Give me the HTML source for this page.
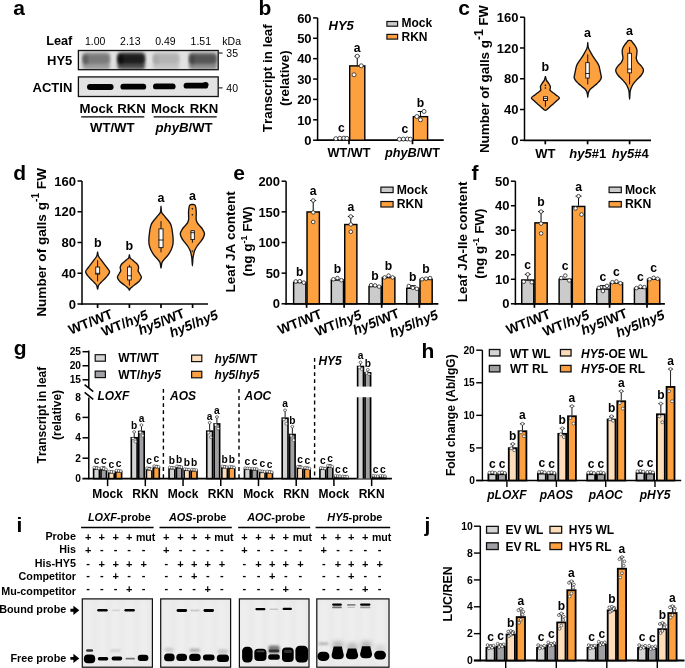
<!DOCTYPE html>
<html><head><meta charset="utf-8"><style>
html,body{margin:0;padding:0;background:#fff;overflow:hidden;}
svg{display:block;}
text{font-family:'Liberation Sans', Arial, sans-serif;font-kerning:none;}
</style></head><body>
<svg width="685" height="668" viewBox="0 0 685 668">
<rect width="685" height="668" fill="#fff"/>
<text x="13.30" y="14.60" font-size="21" font-weight="bold" text-anchor="start" fill="#000">a</text>
<text x="72.30" y="45.00" font-size="12.7" font-weight="bold" text-anchor="end" fill="#000">Leaf</text>
<text x="95.20" y="45.00" font-size="10.5" font-weight="normal" text-anchor="middle" fill="#000">1.00</text>
<text x="130.30" y="45.00" font-size="10.5" font-weight="normal" text-anchor="middle" fill="#000">2.13</text>
<text x="165.40" y="45.00" font-size="10.5" font-weight="normal" text-anchor="middle" fill="#000">0.49</text>
<text x="200.80" y="45.00" font-size="10.5" font-weight="normal" text-anchor="middle" fill="#000">1.51</text>
<text x="222.30" y="45.00" font-size="10.5" font-weight="normal" text-anchor="start" fill="#000">kDa</text>
<text x="72.30" y="65.20" font-size="13" font-weight="bold" text-anchor="end" fill="#000">HY5</text>
<text x="72.30" y="91.80" font-size="13" font-weight="bold" text-anchor="end" fill="#000">ACTIN</text>
<defs><filter id="blur1" x="-20%" y="-50%" width="140%" height="200%"><feGaussianBlur stdDeviation="1.6"/></filter><filter id="blur2" x="-20%" y="-50%" width="140%" height="200%"><feGaussianBlur stdDeviation="0.7"/></filter><clipPath id="cpHY5"><rect x="78.4" y="50.5" width="139.8" height="19.2"/></clipPath><clipPath id="cpACT"><rect x="78.4" y="76.9" width="139.8" height="19.6"/></clipPath></defs>
<rect x="78.40" y="50.50" width="139.80" height="19.20" fill="#e2e2e2" stroke="none" stroke-width="0"/>
<g clip-path="url(#cpHY5)">
<rect x="82.5" y="52.5" width="27.5" height="17" rx="3" fill="#9c9c9c" filter="url(#blur1)"/>
<rect x="83.0" y="54.2" width="26.5" height="9.5" rx="4" fill="#7a7a7a" filter="url(#blur1)"/>
<ellipse cx="85.5" cy="59.5" rx="2.6" ry="5" fill="#4a4a4a" opacity="0.6" filter="url(#blur1)"/>
<rect x="117.5" y="52.5" width="27.5" height="17" rx="3" fill="#505050" filter="url(#blur1)"/>
<rect x="118.0" y="54.2" width="26.5" height="9.5" rx="4" fill="#1c1c1c" filter="url(#blur1)"/>
<ellipse cx="120.5" cy="59.5" rx="2.6" ry="5" fill="#000" opacity="0.6" filter="url(#blur1)"/>
<rect x="153.0" y="52.5" width="26.3" height="17" rx="3" fill="#c4c4c4" filter="url(#blur1)"/>
<rect x="153.5" y="54.2" width="25.3" height="9.5" rx="4" fill="#b4b4b4" filter="url(#blur1)"/>
<ellipse cx="156.0" cy="59.5" rx="2.6" ry="5" fill="#a0a0a0" opacity="0.6" filter="url(#blur1)"/>
<rect x="189.0" y="52.5" width="28.0" height="17" rx="3" fill="#8a8a8a" filter="url(#blur1)"/>
<rect x="189.5" y="54.2" width="27.0" height="9.5" rx="4" fill="#555555" filter="url(#blur1)"/>
<ellipse cx="192.0" cy="59.5" rx="2.6" ry="5" fill="#3a3a3a" opacity="0.6" filter="url(#blur1)"/>
</g>
<rect x="78.40" y="50.50" width="139.80" height="19.20" fill="none" stroke="#111" stroke-width="1.3"/>
<rect x="78.40" y="76.90" width="139.80" height="19.60" fill="#e3e3e3" stroke="none" stroke-width="0"/>
<g clip-path="url(#cpACT)">
<rect x="87.0" y="83.9" width="26.6" height="6.0" rx="3.0" fill="#000" filter="url(#blur2)"/>
<rect x="120.4" y="83.8" width="25.8" height="5.8" rx="2.9" fill="#000" filter="url(#blur2)"/>
<rect x="153.0" y="83.5" width="22.6" height="5.8" rx="2.9" fill="#000" filter="url(#blur2)"/>
<rect x="183.6" y="82.8" width="24.6" height="5.8" rx="2.9" fill="#000" filter="url(#blur2)"/>
<ellipse cx="205.5" cy="84.6" rx="3" ry="2.6" fill="#000" filter="url(#blur2)"/>
</g>
<rect x="78.40" y="76.90" width="139.80" height="19.60" fill="none" stroke="#111" stroke-width="1.3"/>
<line x1="218.90" y1="53.00" x2="222.60" y2="53.00" stroke="#000" stroke-width="1.0"/>
<line x1="218.90" y1="87.90" x2="222.60" y2="87.90" stroke="#000" stroke-width="1.0"/>
<text x="226.30" y="56.60" font-size="10.5" font-weight="normal" text-anchor="start" fill="#000">35</text>
<text x="226.30" y="91.70" font-size="10.5" font-weight="normal" text-anchor="start" fill="#000">40</text>
<text x="96.30" y="112.60" font-size="13.2" font-weight="bold" text-anchor="middle" fill="#000">Mock</text>
<text x="131.50" y="112.60" font-size="13.2" font-weight="bold" text-anchor="middle" fill="#000">RKN</text>
<text x="167.80" y="112.60" font-size="13.2" font-weight="bold" text-anchor="middle" fill="#000">Mock</text>
<text x="204.10" y="112.60" font-size="13.2" font-weight="bold" text-anchor="middle" fill="#000">RKN</text>
<line x1="81.20" y1="116.80" x2="144.30" y2="116.80" stroke="#000" stroke-width="1.3"/>
<line x1="153.60" y1="116.80" x2="216.70" y2="116.80" stroke="#000" stroke-width="1.3"/>
<text x="112.30" y="132.40" font-size="13.2" font-weight="bold" text-anchor="middle" fill="#000">WT/WT</text>
<text x="184.10" y="132.40" font-size="13.2" font-weight="bold" text-anchor="middle" fill="#000"><tspan font-style="italic">phyB</tspan>/WT</text>
<text x="258.60" y="14.60" font-size="21" font-weight="bold" text-anchor="start" fill="#000">b</text>
<line x1="317.60" y1="17.90" x2="317.60" y2="140.95" stroke="#000" stroke-width="1.5"/>
<line x1="313.10" y1="140.20" x2="317.60" y2="140.20" stroke="#000" stroke-width="1.5"/>
<text x="311.60" y="144.88" font-size="13" font-weight="bold" text-anchor="end" fill="#000">0</text>
<line x1="313.10" y1="119.82" x2="317.60" y2="119.82" stroke="#000" stroke-width="1.5"/>
<text x="311.60" y="124.50" font-size="13" font-weight="bold" text-anchor="end" fill="#000">10</text>
<line x1="313.10" y1="99.43" x2="317.60" y2="99.43" stroke="#000" stroke-width="1.5"/>
<text x="311.60" y="104.11" font-size="13" font-weight="bold" text-anchor="end" fill="#000">20</text>
<line x1="313.10" y1="79.05" x2="317.60" y2="79.05" stroke="#000" stroke-width="1.5"/>
<text x="311.60" y="83.73" font-size="13" font-weight="bold" text-anchor="end" fill="#000">30</text>
<line x1="313.10" y1="58.67" x2="317.60" y2="58.67" stroke="#000" stroke-width="1.5"/>
<text x="311.60" y="63.35" font-size="13" font-weight="bold" text-anchor="end" fill="#000">40</text>
<line x1="313.10" y1="38.28" x2="317.60" y2="38.28" stroke="#000" stroke-width="1.5"/>
<text x="311.60" y="42.96" font-size="13" font-weight="bold" text-anchor="end" fill="#000">50</text>
<line x1="313.10" y1="17.90" x2="317.60" y2="17.90" stroke="#000" stroke-width="1.5"/>
<text x="311.60" y="22.58" font-size="13" font-weight="bold" text-anchor="end" fill="#000">60</text>
<line x1="316.75" y1="140.20" x2="443.70" y2="140.20" stroke="#000" stroke-width="1.7"/>
<line x1="349.00" y1="140.20" x2="349.00" y2="144.20" stroke="#000" stroke-width="1.7"/>
<line x1="412.50" y1="140.20" x2="412.50" y2="144.20" stroke="#000" stroke-width="1.7"/>
<rect x="334.20" y="139.27" width="14.30" height="0.93" fill="#cbcbcb" stroke="#000" stroke-width="1.4"/>
<circle cx="335.85" cy="138.67" r="2.00" fill="#fff" stroke="#222" stroke-width="0.8"/>
<circle cx="339.85" cy="138.26" r="2.00" fill="#fff" stroke="#222" stroke-width="0.8"/>
<circle cx="343.85" cy="138.16" r="2.00" fill="#fff" stroke="#222" stroke-width="0.8"/>
<circle cx="346.85" cy="138.37" r="2.00" fill="#fff" stroke="#222" stroke-width="0.8"/>
<text x="341.35" y="132.36" font-size="12.2" font-weight="bold" text-anchor="middle" fill="#000">c</text>
<line x1="357.25" y1="65.19" x2="357.25" y2="56.22" stroke="#000" stroke-width="1.0"/>
<line x1="354.45" y1="56.22" x2="360.05" y2="56.22" stroke="#000" stroke-width="1.0"/>
<rect x="349.70" y="65.89" width="15.10" height="74.31" fill="#fda140" stroke="#000" stroke-width="1.4"/>
<circle cx="357.25" cy="56.22" r="2.00" fill="#fff" stroke="#222" stroke-width="0.8"/>
<circle cx="361.25" cy="65.80" r="2.00" fill="#fff" stroke="#222" stroke-width="0.8"/>
<circle cx="354.05" cy="74.77" r="2.00" fill="#fff" stroke="#222" stroke-width="0.8"/>
<text x="357.25" y="51.72" font-size="12.2" font-weight="bold" text-anchor="middle" fill="#000">a</text>
<rect x="397.70" y="139.98" width="14.40" height="0.22" fill="#cbcbcb" stroke="#000" stroke-width="1.4"/>
<circle cx="399.40" cy="139.28" r="2.00" fill="#fff" stroke="#222" stroke-width="0.8"/>
<circle cx="403.40" cy="139.08" r="2.00" fill="#fff" stroke="#222" stroke-width="0.8"/>
<circle cx="407.40" cy="138.98" r="2.00" fill="#fff" stroke="#222" stroke-width="0.8"/>
<circle cx="410.40" cy="139.18" r="2.00" fill="#fff" stroke="#222" stroke-width="0.8"/>
<text x="404.90" y="133.18" font-size="12.2" font-weight="bold" text-anchor="middle" fill="#000">c</text>
<line x1="420.45" y1="115.94" x2="420.45" y2="111.46" stroke="#000" stroke-width="1.0"/>
<line x1="417.65" y1="111.46" x2="423.25" y2="111.46" stroke="#000" stroke-width="1.0"/>
<rect x="413.30" y="116.64" width="14.30" height="23.56" fill="#fda140" stroke="#000" stroke-width="1.4"/>
<circle cx="416.85" cy="116.56" r="2.00" fill="#fff" stroke="#222" stroke-width="0.8"/>
<circle cx="424.05" cy="111.46" r="2.00" fill="#fff" stroke="#222" stroke-width="0.8"/>
<circle cx="420.45" cy="119.82" r="2.00" fill="#fff" stroke="#222" stroke-width="0.8"/>
<text x="420.45" y="106.96" font-size="12.2" font-weight="bold" text-anchor="middle" fill="#000">b</text>
<text x="328.50" y="30.00" font-size="13" font-weight="bold" font-style="italic" text-anchor="start" fill="#000">HY5</text>
<rect x="386.90" y="21.50" width="10.70" height="4.70" fill="#cbcbcb" stroke="#111" stroke-width="1.2"/>
<rect x="386.90" y="34.40" width="10.70" height="4.70" fill="#fda140" stroke="#111" stroke-width="1.2"/>
<text x="401.50" y="26.80" font-size="12" font-weight="bold" text-anchor="start" fill="#000">Mock</text>
<text x="401.50" y="40.80" font-size="12" font-weight="bold" text-anchor="start" fill="#000">RKN</text>
<text x="0.00" y="0.00" font-size="13.4" font-weight="bold" text-anchor="middle" fill="#000" transform="translate(271.60,78.20) rotate(-90)">Transcript in leaf</text>
<text x="0.00" y="0.00" font-size="13.4" font-weight="bold" text-anchor="middle" fill="#000" transform="translate(288.60,78.20) rotate(-90)">(relative)</text>
<text x="349.00" y="157.30" font-size="12.7" font-weight="bold" text-anchor="middle" fill="#000">WT/WT</text>
<text x="412.40" y="157.30" font-size="12.7" font-weight="bold" text-anchor="middle" fill="#000"><tspan font-style="italic">phyB</tspan>/WT</text>
<text x="458.20" y="14.60" font-size="21" font-weight="bold" text-anchor="start" fill="#000">c</text>
<line x1="524.50" y1="17.20" x2="524.50" y2="141.05" stroke="#000" stroke-width="1.5"/>
<line x1="520.00" y1="140.30" x2="524.50" y2="140.30" stroke="#000" stroke-width="1.5"/>
<text x="518.50" y="144.98" font-size="13" font-weight="bold" text-anchor="end" fill="#000">0</text>
<line x1="520.00" y1="109.53" x2="524.50" y2="109.53" stroke="#000" stroke-width="1.5"/>
<text x="518.50" y="114.21" font-size="13" font-weight="bold" text-anchor="end" fill="#000">40</text>
<line x1="520.00" y1="78.75" x2="524.50" y2="78.75" stroke="#000" stroke-width="1.5"/>
<text x="518.50" y="83.43" font-size="13" font-weight="bold" text-anchor="end" fill="#000">80</text>
<line x1="520.00" y1="47.98" x2="524.50" y2="47.98" stroke="#000" stroke-width="1.5"/>
<text x="518.50" y="52.66" font-size="13" font-weight="bold" text-anchor="end" fill="#000">120</text>
<line x1="520.00" y1="17.20" x2="524.50" y2="17.20" stroke="#000" stroke-width="1.5"/>
<text x="518.50" y="21.88" font-size="13" font-weight="bold" text-anchor="end" fill="#000">160</text>
<line x1="523.65" y1="140.30" x2="651.00" y2="140.30" stroke="#000" stroke-width="1.7"/>
<line x1="545.30" y1="140.30" x2="545.30" y2="144.30" stroke="#000" stroke-width="1.7"/>
<line x1="587.60" y1="140.30" x2="587.60" y2="144.30" stroke="#000" stroke-width="1.7"/>
<line x1="629.60" y1="140.30" x2="629.60" y2="144.30" stroke="#000" stroke-width="1.7"/>
<path d="M545.40,76.40 C545.73,76.40 545.83,78.92 546.40,80.10 C546.97,81.28 548.15,82.48 548.80,83.50 C549.45,84.52 550.07,85.37 550.30,86.20 C550.53,87.03 550.25,87.83 550.20,88.50 C550.15,89.17 549.63,89.58 550.00,90.20 C550.37,90.82 551.42,91.42 552.40,92.20 C553.38,92.98 554.73,93.95 555.90,94.90 C557.07,95.85 559.18,97.00 559.40,97.90 C559.62,98.80 558.18,99.33 557.20,100.30 C556.22,101.27 554.73,102.58 553.50,103.70 C552.27,104.82 550.85,106.05 549.80,107.00 C548.75,107.95 547.93,108.83 547.20,109.40 C546.47,109.97 546.00,110.40 545.40,110.40 C544.80,110.40 544.33,109.97 543.60,109.40 C542.87,108.83 542.05,107.95 541.00,107.00 C539.95,106.05 538.53,104.82 537.30,103.70 C536.07,102.58 534.58,101.27 533.60,100.30 C532.62,99.33 531.18,98.80 531.40,97.90 C531.62,97.00 533.73,95.85 534.90,94.90 C536.07,93.95 537.42,92.98 538.40,92.20 C539.38,91.42 540.43,90.82 540.80,90.20 C541.17,89.58 540.65,89.17 540.60,88.50 C540.55,87.83 540.27,87.03 540.50,86.20 C540.73,85.37 541.35,84.52 542.00,83.50 C542.65,82.48 543.83,81.28 544.40,80.10 C544.97,78.92 545.07,76.40 545.40,76.40 Z" fill="#fda140" stroke="#111" stroke-width="1.35" stroke-linejoin="round"/>
<line x1="545.40" y1="101.00" x2="545.40" y2="106.70" stroke="#111" stroke-width="1.0"/>
<rect x="543.45" y="96.75" width="4.00" height="3.80" fill="#fff" stroke="#111" stroke-width="0.9"/>
<line x1="543.00" y1="98.60" x2="547.90" y2="98.60" stroke="#111" stroke-width="0.9"/>
<circle cx="545.40" cy="85.30" r="0.70" fill="#222" stroke="#222" stroke-width="0.3"/>
<circle cx="545.40" cy="88.00" r="0.70" fill="#222" stroke="#222" stroke-width="0.3"/>
<path d="M587.75,42.40 C587.88,42.40 587.90,45.67 588.15,46.90 C588.40,48.13 588.69,48.65 589.25,49.80 C589.81,50.95 590.73,52.48 591.50,53.80 C592.27,55.12 592.99,56.38 593.85,57.70 C594.71,59.02 595.82,60.38 596.65,61.70 C597.48,63.02 598.28,64.12 598.85,65.60 C599.42,67.08 599.68,68.95 600.05,70.60 C600.42,72.25 600.83,74.35 601.05,75.50 C601.27,76.65 601.52,76.68 601.35,77.50 C601.18,78.32 600.75,79.42 600.05,80.40 C599.35,81.38 598.22,82.40 597.15,83.40 C596.08,84.40 594.80,85.42 593.65,86.40 C592.50,87.38 591.10,88.32 590.25,89.30 C589.40,90.28 588.93,91.30 588.55,92.30 C588.17,93.30 588.08,94.48 587.95,95.30 C587.82,96.12 587.82,97.20 587.75,97.20 C587.68,97.20 587.68,96.12 587.55,95.30 C587.42,94.48 587.33,93.30 586.95,92.30 C586.57,91.30 586.10,90.28 585.25,89.30 C584.40,88.32 583.00,87.38 581.85,86.40 C580.70,85.42 579.42,84.40 578.35,83.40 C577.28,82.40 576.15,81.38 575.45,80.40 C574.75,79.42 574.32,78.32 574.15,77.50 C573.98,76.68 574.23,76.65 574.45,75.50 C574.67,74.35 575.08,72.25 575.45,70.60 C575.82,68.95 576.08,67.08 576.65,65.60 C577.22,64.12 578.02,63.02 578.85,61.70 C579.68,60.38 580.79,59.02 581.65,57.70 C582.51,56.38 583.23,55.12 584.00,53.80 C584.77,52.48 585.69,50.95 586.25,49.80 C586.81,48.65 587.10,48.13 587.35,46.90 C587.60,45.67 587.62,42.40 587.75,42.40 Z" fill="#fda140" stroke="#111" stroke-width="1.35" stroke-linejoin="round"/>
<line x1="587.75" y1="54.30" x2="587.75" y2="84.40" stroke="#111" stroke-width="1.0"/>
<rect x="585.75" y="62.65" width="3.50" height="15.40" fill="#fff" stroke="#111" stroke-width="0.9"/>
<line x1="585.30" y1="73.50" x2="589.70" y2="73.50" stroke="#111" stroke-width="0.9"/>
<path d="M629.60,40.40 C630.10,40.40 630.68,40.35 631.10,40.60 C631.52,40.85 631.53,41.18 632.10,41.90 C632.67,42.62 633.80,43.90 634.50,44.90 C635.20,45.90 635.88,46.92 636.30,47.90 C636.72,48.88 636.93,49.65 637.00,50.80 C637.07,51.95 636.82,53.48 636.70,54.80 C636.58,56.12 636.08,57.38 636.30,58.70 C636.52,60.02 637.22,61.55 638.00,62.70 C638.78,63.85 640.10,64.45 641.00,65.60 C641.90,66.75 643.08,68.45 643.40,69.60 C643.72,70.75 643.30,71.52 642.90,72.50 C642.50,73.48 641.98,74.33 641.00,75.50 C640.02,76.67 638.23,78.18 637.00,79.50 C635.77,80.82 634.53,82.08 633.60,83.40 C632.67,84.72 631.97,86.08 631.40,87.40 C630.83,88.72 630.45,89.98 630.20,91.30 C629.95,92.62 630.00,93.98 629.90,95.30 C629.80,96.62 629.70,99.20 629.60,99.20 C629.50,99.20 629.40,96.62 629.30,95.30 C629.20,93.98 629.25,92.62 629.00,91.30 C628.75,89.98 628.37,88.72 627.80,87.40 C627.23,86.08 626.53,84.72 625.60,83.40 C624.67,82.08 623.43,80.82 622.20,79.50 C620.97,78.18 619.18,76.67 618.20,75.50 C617.22,74.33 616.70,73.48 616.30,72.50 C615.90,71.52 615.48,70.75 615.80,69.60 C616.12,68.45 617.30,66.75 618.20,65.60 C619.10,64.45 620.42,63.85 621.20,62.70 C621.98,61.55 622.68,60.02 622.90,58.70 C623.12,57.38 622.62,56.12 622.50,54.80 C622.38,53.48 622.13,51.95 622.20,50.80 C622.27,49.65 622.48,48.88 622.90,47.90 C623.32,46.92 624.00,45.90 624.70,44.90 C625.40,43.90 626.53,42.62 627.10,41.90 C627.67,41.18 627.68,40.85 628.10,40.60 C628.52,40.35 629.10,40.40 629.60,40.40 Z" fill="#fda140" stroke="#111" stroke-width="1.35" stroke-linejoin="round"/>
<line x1="629.60" y1="46.90" x2="629.60" y2="84.40" stroke="#111" stroke-width="1.0"/>
<rect x="627.75" y="53.25" width="3.70" height="19.60" fill="#fff" stroke="#111" stroke-width="0.9"/>
<line x1="627.30" y1="69.10" x2="631.90" y2="69.10" stroke="#111" stroke-width="0.9"/>
<text x="545.30" y="71.20" font-size="12.5" font-weight="bold" text-anchor="middle" fill="#000">b</text>
<text x="587.60" y="37.30" font-size="12.5" font-weight="bold" text-anchor="middle" fill="#000">a</text>
<text x="629.60" y="35.40" font-size="12.5" font-weight="bold" text-anchor="middle" fill="#000">a</text>
<text x="545.30" y="157.60" font-size="13" font-weight="bold" text-anchor="middle" fill="#000">WT</text>
<text x="587.80" y="157.60" font-size="13" font-weight="bold" text-anchor="middle" fill="#000"><tspan font-style="italic">hy5</tspan>#1</text>
<text x="630.20" y="157.60" font-size="13" font-weight="bold" text-anchor="middle" fill="#000"><tspan font-style="italic">hy5</tspan>#4</text>
<text x="0.00" y="0.00" font-size="13.4" font-weight="bold" text-anchor="middle" fill="#000" transform="translate(488.60,79.20) rotate(-90)">Number of galls g<tspan font-size="12.3" dy="-5.7">-1</tspan><tspan font-size="13" dy="5.5"> FW</tspan></text>
<text x="13.30" y="180.00" font-size="21" font-weight="bold" text-anchor="start" fill="#000">d</text>
<line x1="82.00" y1="181.00" x2="82.00" y2="304.75" stroke="#000" stroke-width="1.5"/>
<line x1="77.50" y1="304.00" x2="82.00" y2="304.00" stroke="#000" stroke-width="1.5"/>
<text x="76.00" y="308.68" font-size="13" font-weight="bold" text-anchor="end" fill="#000">0</text>
<line x1="77.50" y1="273.25" x2="82.00" y2="273.25" stroke="#000" stroke-width="1.5"/>
<text x="76.00" y="277.93" font-size="13" font-weight="bold" text-anchor="end" fill="#000">40</text>
<line x1="77.50" y1="242.50" x2="82.00" y2="242.50" stroke="#000" stroke-width="1.5"/>
<text x="76.00" y="247.18" font-size="13" font-weight="bold" text-anchor="end" fill="#000">80</text>
<line x1="77.50" y1="211.75" x2="82.00" y2="211.75" stroke="#000" stroke-width="1.5"/>
<text x="76.00" y="216.43" font-size="13" font-weight="bold" text-anchor="end" fill="#000">120</text>
<line x1="77.50" y1="181.00" x2="82.00" y2="181.00" stroke="#000" stroke-width="1.5"/>
<text x="76.00" y="185.68" font-size="13" font-weight="bold" text-anchor="end" fill="#000">160</text>
<line x1="81.15" y1="304.00" x2="208.00" y2="304.00" stroke="#000" stroke-width="1.7"/>
<line x1="97.60" y1="304.00" x2="97.60" y2="308.00" stroke="#000" stroke-width="1.7"/>
<line x1="129.40" y1="304.00" x2="129.40" y2="308.00" stroke="#000" stroke-width="1.7"/>
<line x1="161.00" y1="304.00" x2="161.00" y2="308.00" stroke="#000" stroke-width="1.7"/>
<line x1="192.60" y1="304.00" x2="192.60" y2="308.00" stroke="#000" stroke-width="1.7"/>
<path d="M97.60,251.90 C97.77,251.90 97.87,254.25 98.10,255.10 C98.33,255.95 98.40,256.08 99.00,257.00 C99.60,257.92 100.78,259.38 101.70,260.60 C102.62,261.82 103.57,263.07 104.50,264.30 C105.43,265.53 106.45,266.77 107.30,268.00 C108.15,269.23 109.53,270.47 109.60,271.70 C109.67,272.93 108.55,274.18 107.70,275.40 C106.85,276.62 105.65,277.78 104.50,279.00 C103.35,280.22 101.80,281.62 100.80,282.70 C99.80,283.78 99.03,284.43 98.50,285.50 C97.97,286.57 97.90,289.10 97.60,289.10 C97.30,289.10 97.23,286.57 96.70,285.50 C96.17,284.43 95.40,283.78 94.40,282.70 C93.40,281.62 91.85,280.22 90.70,279.00 C89.55,277.78 88.35,276.62 87.50,275.40 C86.65,274.18 85.53,272.93 85.60,271.70 C85.67,270.47 87.05,269.23 87.90,268.00 C88.75,266.77 89.77,265.53 90.70,264.30 C91.63,263.07 92.58,261.82 93.50,260.60 C94.42,259.38 95.60,257.92 96.20,257.00 C96.80,256.08 96.87,255.95 97.10,255.10 C97.33,254.25 97.43,251.90 97.60,251.90 Z" fill="#fda140" stroke="#111" stroke-width="1.35" stroke-linejoin="round"/>
<line x1="97.60" y1="260.20" x2="97.60" y2="281.30" stroke="#111" stroke-width="1.0"/>
<rect x="95.75" y="267.05" width="3.90" height="7.10" fill="#fff" stroke="#111" stroke-width="0.9"/>
<line x1="95.30" y1="273.30" x2="100.10" y2="273.30" stroke="#111" stroke-width="0.9"/>
<path d="M129.40,254.70 C129.63,254.70 129.63,257.07 130.10,257.90 C130.57,258.73 131.32,258.93 132.20,259.70 C133.08,260.47 134.48,261.65 135.40,262.50 C136.32,263.35 137.17,263.97 137.70,264.80 C138.23,265.63 138.53,266.50 138.60,267.50 C138.67,268.50 137.95,269.80 138.10,270.80 C138.25,271.80 138.95,272.43 139.50,273.50 C140.05,274.57 141.40,275.97 141.40,277.20 C141.40,278.43 140.35,279.83 139.50,280.90 C138.65,281.97 137.45,282.68 136.30,283.60 C135.15,284.52 133.63,285.55 132.60,286.40 C131.57,287.25 130.63,288.08 130.10,288.70 C129.57,289.32 129.63,290.10 129.40,290.10 C129.17,290.10 129.23,289.32 128.70,288.70 C128.17,288.08 127.23,287.25 126.20,286.40 C125.17,285.55 123.65,284.52 122.50,283.60 C121.35,282.68 120.15,281.97 119.30,280.90 C118.45,279.83 117.40,278.43 117.40,277.20 C117.40,275.97 118.75,274.57 119.30,273.50 C119.85,272.43 120.55,271.80 120.70,270.80 C120.85,269.80 120.13,268.50 120.20,267.50 C120.27,266.50 120.57,265.63 121.10,264.80 C121.63,263.97 122.48,263.35 123.40,262.50 C124.32,261.65 125.72,260.47 126.60,259.70 C127.48,258.93 128.23,258.73 128.70,257.90 C129.17,257.07 129.17,254.70 129.40,254.70 Z" fill="#fda140" stroke="#111" stroke-width="1.35" stroke-linejoin="round"/>
<line x1="129.40" y1="264.80" x2="129.40" y2="285.50" stroke="#111" stroke-width="1.0"/>
<rect x="127.55" y="267.05" width="3.70" height="12.90" fill="#fff" stroke="#111" stroke-width="0.9"/>
<line x1="127.10" y1="275.80" x2="131.70" y2="275.80" stroke="#111" stroke-width="0.9"/>
<path d="M161.00,206.10 C161.17,206.10 161.05,210.48 161.50,212.00 C161.95,213.52 162.70,213.93 163.70,215.20 C164.70,216.47 166.37,218.15 167.50,219.60 C168.63,221.05 169.78,222.47 170.50,223.90 C171.22,225.33 171.45,226.58 171.80,228.20 C172.15,229.82 172.38,231.80 172.60,233.60 C172.82,235.40 173.05,237.20 173.10,239.00 C173.15,240.80 173.22,242.62 172.90,244.40 C172.58,246.18 172.02,247.92 171.20,249.70 C170.38,251.48 169.17,253.48 168.00,255.10 C166.83,256.72 165.22,258.13 164.20,259.40 C163.18,260.67 162.43,261.25 161.90,262.70 C161.37,264.15 161.30,268.10 161.00,268.10 C160.70,268.10 160.63,264.15 160.10,262.70 C159.57,261.25 158.82,260.67 157.80,259.40 C156.78,258.13 155.17,256.72 154.00,255.10 C152.83,253.48 151.62,251.48 150.80,249.70 C149.98,247.92 149.42,246.18 149.10,244.40 C148.78,242.62 148.85,240.80 148.90,239.00 C148.95,237.20 149.18,235.40 149.40,233.60 C149.62,231.80 149.85,229.82 150.20,228.20 C150.55,226.58 150.78,225.33 151.50,223.90 C152.22,222.47 153.37,221.05 154.50,219.60 C155.63,218.15 157.30,216.47 158.30,215.20 C159.30,213.93 160.05,213.52 160.50,212.00 C160.95,210.48 160.83,206.10 161.00,206.10 Z" fill="#fda140" stroke="#111" stroke-width="1.35" stroke-linejoin="round"/>
<line x1="161.00" y1="221.20" x2="161.00" y2="252.40" stroke="#111" stroke-width="1.0"/>
<rect x="158.95" y="228.85" width="4.10" height="18.80" fill="#fff" stroke="#111" stroke-width="0.9"/>
<line x1="158.50" y1="240.00" x2="163.50" y2="240.00" stroke="#111" stroke-width="0.9"/>
<path d="M192.40,204.50 C193.13,204.50 194.07,204.35 194.60,204.70 C195.13,205.05 195.33,205.57 195.60,206.60 C195.87,207.63 196.10,209.47 196.20,210.90 C196.30,212.33 196.20,213.75 196.20,215.20 C196.20,216.65 196.02,218.33 196.20,219.60 C196.38,220.87 196.68,221.73 197.30,222.80 C197.92,223.87 199.02,224.92 199.90,226.00 C200.78,227.08 201.83,228.03 202.60,229.30 C203.37,230.57 204.40,232.17 204.50,233.60 C204.60,235.03 203.92,236.47 203.20,237.90 C202.48,239.33 201.25,240.77 200.20,242.20 C199.15,243.63 197.83,245.07 196.90,246.50 C195.97,247.93 195.17,249.37 194.60,250.80 C194.03,252.23 193.78,253.83 193.50,255.10 C193.22,256.37 193.08,256.60 192.90,258.40 C192.72,260.20 192.57,265.90 192.40,265.90 C192.23,265.90 192.08,260.20 191.90,258.40 C191.72,256.60 191.58,256.37 191.30,255.10 C191.02,253.83 190.77,252.23 190.20,250.80 C189.63,249.37 188.83,247.93 187.90,246.50 C186.97,245.07 185.65,243.63 184.60,242.20 C183.55,240.77 182.32,239.33 181.60,237.90 C180.88,236.47 180.20,235.03 180.30,233.60 C180.40,232.17 181.43,230.57 182.20,229.30 C182.97,228.03 184.02,227.08 184.90,226.00 C185.78,224.92 186.88,223.87 187.50,222.80 C188.12,221.73 188.42,220.87 188.60,219.60 C188.78,218.33 188.60,216.65 188.60,215.20 C188.60,213.75 188.50,212.33 188.60,210.90 C188.70,209.47 188.93,207.63 189.20,206.60 C189.47,205.57 189.67,205.05 190.20,204.70 C190.73,204.35 191.67,204.50 192.40,204.50 Z" fill="#fda140" stroke="#111" stroke-width="1.35" stroke-linejoin="round"/>
<line x1="192.40" y1="230.30" x2="192.40" y2="242.70" stroke="#111" stroke-width="1.0"/>
<rect x="190.95" y="230.75" width="3.40" height="8.80" fill="#fff" stroke="#111" stroke-width="0.9"/>
<line x1="190.50" y1="232.70" x2="194.80" y2="232.70" stroke="#111" stroke-width="0.9"/>
<circle cx="192.40" cy="208.80" r="0.70" fill="#222" stroke="#222" stroke-width="0.3"/>
<circle cx="192.40" cy="214.70" r="0.70" fill="#222" stroke="#222" stroke-width="0.3"/>
<circle cx="192.40" cy="251.10" r="0.70" fill="#222" stroke="#222" stroke-width="0.3"/>
<text x="97.70" y="246.80" font-size="12.5" font-weight="bold" text-anchor="middle" fill="#000">b</text>
<text x="129.30" y="250.10" font-size="12.5" font-weight="bold" text-anchor="middle" fill="#000">b</text>
<text x="161.00" y="201.50" font-size="12.5" font-weight="bold" text-anchor="middle" fill="#000">a</text>
<text x="192.60" y="199.70" font-size="12.5" font-weight="bold" text-anchor="middle" fill="#000">a</text>
<text x="0.00" y="0.00" font-size="13.7" font-weight="bold" text-anchor="end" fill="#000" transform="translate(113.70,317.50) rotate(-22)">WT/WT</text>
<text x="0.00" y="0.00" font-size="13.7" font-weight="bold" text-anchor="end" fill="#000" transform="translate(149.00,318.30) rotate(-22)">WT/<tspan font-style="italic">hy5</tspan></text>
<text x="0.00" y="0.00" font-size="13.7" font-weight="bold" text-anchor="end" fill="#000" transform="translate(185.70,316.80) rotate(-22)"><tspan font-style="italic">hy5</tspan>/WT</text>
<text x="0.00" y="0.00" font-size="13.7" font-weight="bold" text-anchor="end" fill="#000" transform="translate(219.10,318.30) rotate(-22)"><tspan font-style="italic">hy5</tspan>/<tspan font-style="italic">hy5</tspan></text>
<text x="0.00" y="0.00" font-size="13.6" font-weight="bold" text-anchor="middle" fill="#000" transform="translate(45.60,242.40) rotate(-90)">Number of galls g<tspan font-size="10.2" dy="-6.8">-1</tspan><tspan dy="6.8"> FW</tspan></text>
<text x="233.20" y="179.60" font-size="21" font-weight="bold" text-anchor="start" fill="#000">e</text>
<line x1="286.10" y1="181.20" x2="286.10" y2="304.55" stroke="#000" stroke-width="1.5"/>
<line x1="281.60" y1="303.80" x2="286.10" y2="303.80" stroke="#000" stroke-width="1.5"/>
<text x="280.10" y="308.48" font-size="13" font-weight="bold" text-anchor="end" fill="#000">0</text>
<line x1="281.60" y1="273.15" x2="286.10" y2="273.15" stroke="#000" stroke-width="1.5"/>
<text x="280.10" y="277.83" font-size="13" font-weight="bold" text-anchor="end" fill="#000">50</text>
<line x1="281.60" y1="242.50" x2="286.10" y2="242.50" stroke="#000" stroke-width="1.5"/>
<text x="280.10" y="247.18" font-size="13" font-weight="bold" text-anchor="end" fill="#000">100</text>
<line x1="281.60" y1="211.85" x2="286.10" y2="211.85" stroke="#000" stroke-width="1.5"/>
<text x="280.10" y="216.53" font-size="13" font-weight="bold" text-anchor="end" fill="#000">150</text>
<line x1="281.60" y1="181.20" x2="286.10" y2="181.20" stroke="#000" stroke-width="1.5"/>
<text x="280.10" y="185.88" font-size="13" font-weight="bold" text-anchor="end" fill="#000">200</text>
<line x1="285.25" y1="303.80" x2="438.40" y2="303.80" stroke="#000" stroke-width="1.7"/>
<line x1="306.60" y1="303.80" x2="306.60" y2="307.80" stroke="#000" stroke-width="1.7"/>
<line x1="344.10" y1="303.80" x2="344.10" y2="307.80" stroke="#000" stroke-width="1.7"/>
<line x1="381.70" y1="303.80" x2="381.70" y2="307.80" stroke="#000" stroke-width="1.7"/>
<line x1="419.40" y1="303.80" x2="419.40" y2="307.80" stroke="#000" stroke-width="1.7"/>
<rect x="293.62" y="282.46" width="12.25" height="21.34" fill="#cbcbcb" stroke="#000" stroke-width="1.45"/>
<circle cx="295.75" cy="281.43" r="1.80" fill="#fff" stroke="#222" stroke-width="0.8"/>
<circle cx="299.75" cy="281.24" r="1.80" fill="#fff" stroke="#222" stroke-width="0.8"/>
<circle cx="303.75" cy="282.65" r="1.80" fill="#fff" stroke="#222" stroke-width="0.8"/>
<text x="299.75" y="275.84" font-size="12.2" font-weight="bold" text-anchor="middle" fill="#000">b</text>
<line x1="313.20" y1="211.24" x2="313.20" y2="200.51" stroke="#000" stroke-width="1.0"/>
<line x1="310.20" y1="200.51" x2="316.20" y2="200.51" stroke="#000" stroke-width="1.0"/>
<rect x="307.03" y="211.96" width="12.35" height="91.84" fill="#fda140" stroke="#000" stroke-width="1.45"/>
<circle cx="313.20" cy="200.51" r="1.80" fill="#fff" stroke="#222" stroke-width="0.8"/>
<circle cx="313.20" cy="212.46" r="1.80" fill="#fff" stroke="#222" stroke-width="0.8"/>
<circle cx="313.20" cy="221.96" r="1.80" fill="#fff" stroke="#222" stroke-width="0.8"/>
<text x="313.20" y="195.11" font-size="12.2" font-weight="bold" text-anchor="middle" fill="#000">a</text>
<rect x="331.33" y="280.01" width="12.15" height="23.79" fill="#cbcbcb" stroke="#000" stroke-width="1.45"/>
<circle cx="333.40" cy="279.28" r="1.80" fill="#fff" stroke="#222" stroke-width="0.8"/>
<circle cx="337.40" cy="278.05" r="1.80" fill="#fff" stroke="#222" stroke-width="0.8"/>
<circle cx="341.40" cy="280.20" r="1.80" fill="#fff" stroke="#222" stroke-width="0.8"/>
<text x="337.40" y="272.65" font-size="12.2" font-weight="bold" text-anchor="middle" fill="#000">b</text>
<line x1="350.80" y1="223.80" x2="350.80" y2="216.45" stroke="#000" stroke-width="1.0"/>
<line x1="347.80" y1="216.45" x2="353.80" y2="216.45" stroke="#000" stroke-width="1.0"/>
<rect x="344.73" y="224.53" width="12.15" height="79.27" fill="#fda140" stroke="#000" stroke-width="1.45"/>
<circle cx="350.80" cy="216.45" r="1.80" fill="#fff" stroke="#222" stroke-width="0.8"/>
<circle cx="350.80" cy="224.42" r="1.80" fill="#fff" stroke="#222" stroke-width="0.8"/>
<circle cx="350.80" cy="231.77" r="1.80" fill="#fff" stroke="#222" stroke-width="0.8"/>
<text x="350.80" y="211.05" font-size="12.2" font-weight="bold" text-anchor="middle" fill="#000">a</text>
<rect x="369.03" y="286.44" width="12.15" height="17.36" fill="#cbcbcb" stroke="#000" stroke-width="1.45"/>
<circle cx="371.10" cy="285.10" r="1.80" fill="#fff" stroke="#222" stroke-width="0.8"/>
<circle cx="375.10" cy="285.41" r="1.80" fill="#fff" stroke="#222" stroke-width="0.8"/>
<circle cx="379.10" cy="286.64" r="1.80" fill="#fff" stroke="#222" stroke-width="0.8"/>
<text x="375.10" y="279.70" font-size="12.2" font-weight="bold" text-anchor="middle" fill="#000">b</text>
<rect x="382.33" y="277.55" width="12.55" height="26.25" fill="#fda140" stroke="#000" stroke-width="1.45"/>
<circle cx="384.60" cy="277.44" r="1.80" fill="#fff" stroke="#222" stroke-width="0.8"/>
<circle cx="388.60" cy="275.60" r="1.80" fill="#fff" stroke="#222" stroke-width="0.8"/>
<circle cx="392.60" cy="277.44" r="1.80" fill="#fff" stroke="#222" stroke-width="0.8"/>
<text x="388.60" y="270.20" font-size="12.2" font-weight="bold" text-anchor="middle" fill="#000">b</text>
<line x1="412.80" y1="287.56" x2="412.80" y2="285.72" stroke="#000" stroke-width="1.0"/>
<line x1="409.80" y1="285.72" x2="415.80" y2="285.72" stroke="#000" stroke-width="1.0"/>
<rect x="406.73" y="288.28" width="12.15" height="15.52" fill="#cbcbcb" stroke="#000" stroke-width="1.45"/>
<circle cx="408.80" cy="286.02" r="1.80" fill="#fff" stroke="#222" stroke-width="0.8"/>
<circle cx="412.80" cy="287.86" r="1.80" fill="#fff" stroke="#222" stroke-width="0.8"/>
<circle cx="416.80" cy="288.78" r="1.80" fill="#fff" stroke="#222" stroke-width="0.8"/>
<text x="412.80" y="280.62" font-size="12.2" font-weight="bold" text-anchor="middle" fill="#000">b</text>
<rect x="420.03" y="279.39" width="12.15" height="24.41" fill="#fda140" stroke="#000" stroke-width="1.45"/>
<circle cx="422.10" cy="279.28" r="1.80" fill="#fff" stroke="#222" stroke-width="0.8"/>
<circle cx="426.10" cy="278.67" r="1.80" fill="#fff" stroke="#222" stroke-width="0.8"/>
<circle cx="430.10" cy="278.05" r="1.80" fill="#fff" stroke="#222" stroke-width="0.8"/>
<text x="426.10" y="272.65" font-size="12.2" font-weight="bold" text-anchor="middle" fill="#000">b</text>
<rect x="380.90" y="187.10" width="12.20" height="5.50" fill="#cbcbcb" stroke="#111" stroke-width="1.2"/>
<text x="396.70" y="193.60" font-size="12.2" font-weight="bold" text-anchor="start" fill="#000">Mock</text>
<rect x="380.90" y="201.50" width="12.20" height="5.50" fill="#fda140" stroke="#111" stroke-width="1.2"/>
<text x="396.70" y="208.00" font-size="12.2" font-weight="bold" text-anchor="start" fill="#000">RKN</text>
<text x="0.00" y="0.00" font-size="13.5" font-weight="bold" text-anchor="middle" fill="#000" transform="translate(234.60,241.80) rotate(-90)">Leaf JA content</text>
<text x="0.00" y="0.00" font-size="13.5" font-weight="bold" text-anchor="middle" fill="#000" transform="translate(252.20,241.30) rotate(-90)">(ng g<tspan font-size="9" dy="-5">-1</tspan><tspan dy="5"> FW)</tspan></text>
<text x="0.00" y="0.00" font-size="13.7" font-weight="bold" text-anchor="end" fill="#000" transform="translate(323.00,317.50) rotate(-22)">WT/WT</text>
<text x="0.00" y="0.00" font-size="13.7" font-weight="bold" text-anchor="end" fill="#000" transform="translate(362.50,318.30) rotate(-22)">WT/<tspan font-style="italic">hy5</tspan></text>
<text x="0.00" y="0.00" font-size="13.7" font-weight="bold" text-anchor="end" fill="#000" transform="translate(400.50,316.80) rotate(-22)"><tspan font-style="italic">hy5</tspan>/WT</text>
<text x="0.00" y="0.00" font-size="13.7" font-weight="bold" text-anchor="end" fill="#000" transform="translate(439.00,318.30) rotate(-22)"><tspan font-style="italic">hy5</tspan>/<tspan font-style="italic">hy5</tspan></text>
<text x="471.50" y="179.60" font-size="21" font-weight="bold" text-anchor="start" fill="#000">f</text>
<line x1="515.40" y1="181.20" x2="515.40" y2="304.55" stroke="#000" stroke-width="1.5"/>
<line x1="510.90" y1="303.80" x2="515.40" y2="303.80" stroke="#000" stroke-width="1.5"/>
<text x="509.40" y="308.48" font-size="13" font-weight="bold" text-anchor="end" fill="#000">0</text>
<line x1="510.90" y1="279.28" x2="515.40" y2="279.28" stroke="#000" stroke-width="1.5"/>
<text x="509.40" y="283.96" font-size="13" font-weight="bold" text-anchor="end" fill="#000">10</text>
<line x1="510.90" y1="254.76" x2="515.40" y2="254.76" stroke="#000" stroke-width="1.5"/>
<text x="509.40" y="259.44" font-size="13" font-weight="bold" text-anchor="end" fill="#000">20</text>
<line x1="510.90" y1="230.24" x2="515.40" y2="230.24" stroke="#000" stroke-width="1.5"/>
<text x="509.40" y="234.92" font-size="13" font-weight="bold" text-anchor="end" fill="#000">30</text>
<line x1="510.90" y1="205.72" x2="515.40" y2="205.72" stroke="#000" stroke-width="1.5"/>
<text x="509.40" y="210.40" font-size="13" font-weight="bold" text-anchor="end" fill="#000">40</text>
<line x1="510.90" y1="181.20" x2="515.40" y2="181.20" stroke="#000" stroke-width="1.5"/>
<text x="509.40" y="185.88" font-size="13" font-weight="bold" text-anchor="end" fill="#000">50</text>
<line x1="514.55" y1="303.80" x2="664.90" y2="303.80" stroke="#000" stroke-width="1.7"/>
<line x1="534.40" y1="303.80" x2="534.40" y2="307.80" stroke="#000" stroke-width="1.7"/>
<line x1="571.80" y1="303.80" x2="571.80" y2="307.80" stroke="#000" stroke-width="1.7"/>
<line x1="609.60" y1="303.80" x2="609.60" y2="307.80" stroke="#000" stroke-width="1.7"/>
<line x1="647.00" y1="303.80" x2="647.00" y2="307.80" stroke="#000" stroke-width="1.7"/>
<line x1="527.75" y1="279.28" x2="527.75" y2="274.38" stroke="#000" stroke-width="1.0"/>
<line x1="524.75" y1="274.38" x2="530.75" y2="274.38" stroke="#000" stroke-width="1.0"/>
<rect x="521.73" y="280.01" width="12.05" height="23.79" fill="#cbcbcb" stroke="#000" stroke-width="1.45"/>
<circle cx="523.75" cy="281.73" r="1.80" fill="#fff" stroke="#222" stroke-width="0.8"/>
<circle cx="527.75" cy="274.38" r="1.80" fill="#fff" stroke="#222" stroke-width="0.8"/>
<circle cx="531.75" cy="282.22" r="1.80" fill="#fff" stroke="#222" stroke-width="0.8"/>
<text x="527.75" y="268.98" font-size="12.2" font-weight="bold" text-anchor="middle" fill="#000">c</text>
<line x1="541.05" y1="222.15" x2="541.05" y2="211.60" stroke="#000" stroke-width="1.0"/>
<line x1="538.05" y1="211.60" x2="544.05" y2="211.60" stroke="#000" stroke-width="1.0"/>
<rect x="534.93" y="222.87" width="12.25" height="80.93" fill="#fda140" stroke="#000" stroke-width="1.45"/>
<circle cx="541.05" cy="211.60" r="1.80" fill="#fff" stroke="#222" stroke-width="0.8"/>
<circle cx="541.05" cy="223.62" r="1.80" fill="#fff" stroke="#222" stroke-width="0.8"/>
<circle cx="541.05" cy="233.43" r="1.80" fill="#fff" stroke="#222" stroke-width="0.8"/>
<text x="541.05" y="206.20" font-size="12.2" font-weight="bold" text-anchor="middle" fill="#000">b</text>
<rect x="559.12" y="279.27" width="12.25" height="24.53" fill="#cbcbcb" stroke="#000" stroke-width="1.45"/>
<circle cx="561.25" cy="278.05" r="1.80" fill="#fff" stroke="#222" stroke-width="0.8"/>
<circle cx="565.25" cy="275.60" r="1.80" fill="#fff" stroke="#222" stroke-width="0.8"/>
<circle cx="569.25" cy="280.51" r="1.80" fill="#fff" stroke="#222" stroke-width="0.8"/>
<text x="565.25" y="270.20" font-size="12.2" font-weight="bold" text-anchor="middle" fill="#000">c</text>
<line x1="578.55" y1="205.72" x2="578.55" y2="196.16" stroke="#000" stroke-width="1.0"/>
<line x1="575.55" y1="196.16" x2="581.55" y2="196.16" stroke="#000" stroke-width="1.0"/>
<rect x="572.33" y="206.44" width="12.45" height="97.36" fill="#fda140" stroke="#000" stroke-width="1.45"/>
<circle cx="578.55" cy="196.16" r="1.80" fill="#fff" stroke="#222" stroke-width="0.8"/>
<circle cx="575.55" cy="208.42" r="1.80" fill="#fff" stroke="#222" stroke-width="0.8"/>
<circle cx="581.55" cy="214.55" r="1.80" fill="#fff" stroke="#222" stroke-width="0.8"/>
<text x="578.55" y="190.76" font-size="12.2" font-weight="bold" text-anchor="middle" fill="#000">a</text>
<line x1="602.90" y1="288.35" x2="602.90" y2="285.66" stroke="#000" stroke-width="1.0"/>
<line x1="599.90" y1="285.66" x2="605.90" y2="285.66" stroke="#000" stroke-width="1.0"/>
<rect x="596.73" y="289.08" width="12.35" height="14.72" fill="#cbcbcb" stroke="#000" stroke-width="1.45"/>
<circle cx="598.90" cy="287.86" r="1.80" fill="#fff" stroke="#222" stroke-width="0.8"/>
<circle cx="602.90" cy="291.05" r="1.80" fill="#fff" stroke="#222" stroke-width="0.8"/>
<circle cx="606.90" cy="285.90" r="1.80" fill="#fff" stroke="#222" stroke-width="0.8"/>
<text x="602.90" y="280.50" font-size="12.2" font-weight="bold" text-anchor="middle" fill="#000">c</text>
<rect x="610.23" y="282.95" width="12.35" height="20.85" fill="#fda140" stroke="#000" stroke-width="1.45"/>
<circle cx="612.40" cy="282.22" r="1.80" fill="#fff" stroke="#222" stroke-width="0.8"/>
<circle cx="616.40" cy="281.49" r="1.80" fill="#fff" stroke="#222" stroke-width="0.8"/>
<circle cx="620.40" cy="283.20" r="1.80" fill="#fff" stroke="#222" stroke-width="0.8"/>
<text x="616.40" y="276.09" font-size="12.2" font-weight="bold" text-anchor="middle" fill="#000">c</text>
<rect x="634.43" y="288.34" width="11.95" height="15.46" fill="#cbcbcb" stroke="#000" stroke-width="1.45"/>
<circle cx="636.40" cy="288.11" r="1.80" fill="#fff" stroke="#222" stroke-width="0.8"/>
<circle cx="640.40" cy="286.64" r="1.80" fill="#fff" stroke="#222" stroke-width="0.8"/>
<circle cx="644.40" cy="287.13" r="1.80" fill="#fff" stroke="#222" stroke-width="0.8"/>
<text x="640.40" y="281.24" font-size="12.2" font-weight="bold" text-anchor="middle" fill="#000">c</text>
<rect x="647.52" y="279.27" width="12.25" height="24.53" fill="#fda140" stroke="#000" stroke-width="1.45"/>
<circle cx="649.65" cy="279.28" r="1.80" fill="#fff" stroke="#222" stroke-width="0.8"/>
<circle cx="653.65" cy="277.81" r="1.80" fill="#fff" stroke="#222" stroke-width="0.8"/>
<circle cx="657.65" cy="278.79" r="1.80" fill="#fff" stroke="#222" stroke-width="0.8"/>
<text x="653.65" y="272.41" font-size="12.2" font-weight="bold" text-anchor="middle" fill="#000">c</text>
<rect x="609.10" y="187.10" width="12.20" height="5.50" fill="#cbcbcb" stroke="#111" stroke-width="1.2"/>
<text x="624.90" y="193.60" font-size="12.2" font-weight="bold" text-anchor="start" fill="#000">Mock</text>
<rect x="609.10" y="201.50" width="12.20" height="5.50" fill="#fda140" stroke="#111" stroke-width="1.2"/>
<text x="624.90" y="208.00" font-size="12.2" font-weight="bold" text-anchor="start" fill="#000">RKN</text>
<text x="0.00" y="0.00" font-size="13.5" font-weight="bold" text-anchor="middle" fill="#000" transform="translate(467.20,241.80) rotate(-90)">Leaf JA-Ile content</text>
<text x="0.00" y="0.00" font-size="13.5" font-weight="bold" text-anchor="middle" fill="#000" transform="translate(484.00,243.50) rotate(-90)">(ng g<tspan font-size="9" dy="-5">-1</tspan><tspan dy="5"> FW)</tspan></text>
<text x="0.00" y="0.00" font-size="13.7" font-weight="bold" text-anchor="end" fill="#000" transform="translate(551.50,317.50) rotate(-22)">WT/WT</text>
<text x="0.00" y="0.00" font-size="13.7" font-weight="bold" text-anchor="end" fill="#000" transform="translate(590.20,318.30) rotate(-22)">WT/<tspan font-style="italic">hy5</tspan></text>
<text x="0.00" y="0.00" font-size="13.7" font-weight="bold" text-anchor="end" fill="#000" transform="translate(628.50,316.80) rotate(-22)"><tspan font-style="italic">hy5</tspan>/WT</text>
<text x="0.00" y="0.00" font-size="13.7" font-weight="bold" text-anchor="end" fill="#000" transform="translate(665.50,318.30) rotate(-22)"><tspan font-style="italic">hy5</tspan>/<tspan font-style="italic">hy5</tspan></text>
<text x="13.70" y="355.30" font-size="21" font-weight="bold" text-anchor="start" fill="#000">g</text>
<line x1="88.80" y1="350.60" x2="88.80" y2="388.00" stroke="#000" stroke-width="1.5"/>
<line x1="88.80" y1="397.50" x2="88.80" y2="479.30" stroke="#000" stroke-width="1.5"/>
<line x1="84.60" y1="384.60" x2="93.30" y2="391.60" stroke="#000" stroke-width="1.5"/>
<line x1="84.60" y1="392.40" x2="93.30" y2="399.40" stroke="#000" stroke-width="1.5"/>
<line x1="82.50" y1="351.70" x2="88.80" y2="351.70" stroke="#000" stroke-width="1.5"/>
<text x="81.00" y="355.20" font-size="10.2" font-weight="bold" text-anchor="end" fill="#000">25</text>
<line x1="82.50" y1="365.75" x2="88.80" y2="365.75" stroke="#000" stroke-width="1.5"/>
<text x="81.00" y="369.25" font-size="10.2" font-weight="bold" text-anchor="end" fill="#000">20</text>
<line x1="82.50" y1="379.80" x2="88.80" y2="379.80" stroke="#000" stroke-width="1.5"/>
<text x="81.00" y="383.30" font-size="10.2" font-weight="bold" text-anchor="end" fill="#000">15</text>
<line x1="82.50" y1="417.40" x2="88.80" y2="417.40" stroke="#000" stroke-width="1.5"/>
<text x="81.00" y="420.90" font-size="10.2" font-weight="bold" text-anchor="end" fill="#000">6</text>
<line x1="82.50" y1="437.80" x2="88.80" y2="437.80" stroke="#000" stroke-width="1.5"/>
<text x="81.00" y="441.30" font-size="10.2" font-weight="bold" text-anchor="end" fill="#000">4</text>
<line x1="82.50" y1="458.20" x2="88.80" y2="458.20" stroke="#000" stroke-width="1.5"/>
<text x="81.00" y="461.70" font-size="10.2" font-weight="bold" text-anchor="end" fill="#000">2</text>
<text x="81.00" y="400.50" font-size="10.2" font-weight="bold" text-anchor="end" fill="#000">8</text>
<text x="81.00" y="482.10" font-size="10.2" font-weight="bold" text-anchor="end" fill="#000">0</text>
<line x1="82.40" y1="478.60" x2="391.90" y2="478.60" stroke="#000" stroke-width="1.9"/>
<line x1="107.60" y1="478.60" x2="107.60" y2="486.10" stroke="#000" stroke-width="1.5"/>
<line x1="145.32" y1="478.60" x2="145.32" y2="486.10" stroke="#000" stroke-width="1.5"/>
<line x1="183.04" y1="478.60" x2="183.04" y2="486.10" stroke="#000" stroke-width="1.5"/>
<line x1="220.76" y1="478.60" x2="220.76" y2="486.10" stroke="#000" stroke-width="1.5"/>
<line x1="258.48" y1="478.60" x2="258.48" y2="486.10" stroke="#000" stroke-width="1.5"/>
<line x1="296.20" y1="478.60" x2="296.20" y2="486.10" stroke="#000" stroke-width="1.5"/>
<line x1="333.92" y1="478.60" x2="333.92" y2="486.10" stroke="#000" stroke-width="1.5"/>
<line x1="371.64" y1="478.60" x2="371.64" y2="486.10" stroke="#000" stroke-width="1.5"/>
<line x1="163.4" y1="389.0" x2="163.4" y2="478.6" stroke="#000" stroke-width="1.4" stroke-dasharray="3.8 3.3"/>
<line x1="239.0" y1="389.0" x2="239.0" y2="478.6" stroke="#000" stroke-width="1.4" stroke-dasharray="3.8 3.3"/>
<line x1="314.6" y1="358.0" x2="314.6" y2="478.6" stroke="#000" stroke-width="1.4" stroke-dasharray="3.8 3.3"/>
<line x1="96.50" y1="468.20" x2="96.50" y2="466.97" stroke="#000" stroke-width="0.9"/>
<line x1="94.90" y1="466.97" x2="98.10" y2="466.97" stroke="#000" stroke-width="0.9"/>
<rect x="93.60" y="469.00" width="5.80" height="9.60" fill="#d4d4d4" stroke="#000" stroke-width="1.6"/>
<circle cx="94.30" cy="467.58" r="1.35" fill="#fff" stroke="#333" stroke-width="0.6"/>
<circle cx="96.50" cy="468.07" r="1.35" fill="#fff" stroke="#333" stroke-width="0.6"/>
<circle cx="98.70" cy="468.44" r="1.35" fill="#fff" stroke="#333" stroke-width="0.6"/>
<text x="96.50" y="463.97" font-size="10.2" font-weight="bold" text-anchor="middle" fill="#000">c</text>
<line x1="103.75" y1="468.91" x2="103.75" y2="466.87" stroke="#000" stroke-width="0.9"/>
<line x1="102.15" y1="466.87" x2="105.35" y2="466.87" stroke="#000" stroke-width="0.9"/>
<rect x="101.00" y="469.71" width="5.50" height="8.89" fill="#a0a0a4" stroke="#000" stroke-width="1.6"/>
<circle cx="101.55" cy="467.89" r="1.35" fill="#fff" stroke="#333" stroke-width="0.6"/>
<circle cx="103.75" cy="468.71" r="1.35" fill="#fff" stroke="#333" stroke-width="0.6"/>
<circle cx="105.95" cy="469.32" r="1.35" fill="#fff" stroke="#333" stroke-width="0.6"/>
<text x="103.75" y="463.87" font-size="10.2" font-weight="bold" text-anchor="middle" fill="#000">c</text>
<line x1="111.45" y1="471.87" x2="111.45" y2="471.05" stroke="#000" stroke-width="0.9"/>
<line x1="109.85" y1="471.05" x2="113.05" y2="471.05" stroke="#000" stroke-width="0.9"/>
<rect x="108.70" y="472.67" width="5.50" height="5.93" fill="#fddcb9" stroke="#000" stroke-width="1.6"/>
<circle cx="109.25" cy="471.46" r="1.35" fill="#fff" stroke="#333" stroke-width="0.6"/>
<circle cx="111.45" cy="471.79" r="1.35" fill="#fff" stroke="#333" stroke-width="0.6"/>
<circle cx="113.65" cy="472.03" r="1.35" fill="#fff" stroke="#333" stroke-width="0.6"/>
<text x="111.45" y="468.05" font-size="10.2" font-weight="bold" text-anchor="middle" fill="#000">c</text>
<line x1="118.70" y1="470.95" x2="118.70" y2="470.13" stroke="#000" stroke-width="0.9"/>
<line x1="117.10" y1="470.13" x2="120.30" y2="470.13" stroke="#000" stroke-width="0.9"/>
<rect x="115.80" y="471.75" width="5.80" height="6.85" fill="#fda140" stroke="#000" stroke-width="1.6"/>
<circle cx="116.50" cy="470.54" r="1.35" fill="#fff" stroke="#333" stroke-width="0.6"/>
<circle cx="118.70" cy="470.87" r="1.35" fill="#fff" stroke="#333" stroke-width="0.6"/>
<circle cx="120.90" cy="471.11" r="1.35" fill="#fff" stroke="#333" stroke-width="0.6"/>
<text x="118.70" y="467.13" font-size="10.2" font-weight="bold" text-anchor="middle" fill="#000">c</text>
<line x1="134.22" y1="436.98" x2="134.22" y2="431.88" stroke="#000" stroke-width="0.9"/>
<line x1="132.62" y1="431.88" x2="135.82" y2="431.88" stroke="#000" stroke-width="0.9"/>
<rect x="131.32" y="437.78" width="5.80" height="40.82" fill="#d4d4d4" stroke="#000" stroke-width="1.6"/>
<circle cx="134.22" cy="431.88" r="1.35" fill="#fff" stroke="#333" stroke-width="0.6"/>
<circle cx="133.02" cy="438.51" r="1.35" fill="#fff" stroke="#333" stroke-width="0.6"/>
<circle cx="135.42" cy="441.57" r="1.35" fill="#fff" stroke="#333" stroke-width="0.6"/>
<text x="134.22" y="428.88" font-size="10.2" font-weight="bold" text-anchor="middle" fill="#000">b</text>
<line x1="141.47" y1="430.66" x2="141.47" y2="425.05" stroke="#000" stroke-width="0.9"/>
<line x1="139.87" y1="425.05" x2="143.07" y2="425.05" stroke="#000" stroke-width="0.9"/>
<rect x="138.72" y="431.46" width="5.50" height="47.14" fill="#a0a0a4" stroke="#000" stroke-width="1.6"/>
<circle cx="141.47" cy="425.05" r="1.35" fill="#fff" stroke="#333" stroke-width="0.6"/>
<circle cx="140.27" cy="432.34" r="1.35" fill="#fff" stroke="#333" stroke-width="0.6"/>
<circle cx="142.67" cy="435.71" r="1.35" fill="#fff" stroke="#333" stroke-width="0.6"/>
<text x="141.47" y="422.05" font-size="10.2" font-weight="bold" text-anchor="middle" fill="#000">a</text>
<line x1="149.17" y1="468.91" x2="149.17" y2="467.38" stroke="#000" stroke-width="0.9"/>
<line x1="147.57" y1="467.38" x2="150.77" y2="467.38" stroke="#000" stroke-width="0.9"/>
<rect x="146.42" y="469.71" width="5.50" height="8.89" fill="#fddcb9" stroke="#000" stroke-width="1.6"/>
<circle cx="146.97" cy="468.15" r="1.35" fill="#fff" stroke="#333" stroke-width="0.6"/>
<circle cx="149.17" cy="468.76" r="1.35" fill="#fff" stroke="#333" stroke-width="0.6"/>
<circle cx="151.37" cy="469.22" r="1.35" fill="#fff" stroke="#333" stroke-width="0.6"/>
<text x="149.17" y="464.38" font-size="10.2" font-weight="bold" text-anchor="middle" fill="#000">c</text>
<line x1="156.42" y1="466.67" x2="156.42" y2="465.44" stroke="#000" stroke-width="0.9"/>
<line x1="154.82" y1="465.44" x2="158.02" y2="465.44" stroke="#000" stroke-width="0.9"/>
<rect x="153.52" y="467.47" width="5.80" height="11.13" fill="#fda140" stroke="#000" stroke-width="1.6"/>
<circle cx="154.22" cy="466.05" r="1.35" fill="#fff" stroke="#333" stroke-width="0.6"/>
<circle cx="156.42" cy="466.54" r="1.35" fill="#fff" stroke="#333" stroke-width="0.6"/>
<circle cx="158.62" cy="466.91" r="1.35" fill="#fff" stroke="#333" stroke-width="0.6"/>
<text x="156.42" y="462.44" font-size="10.2" font-weight="bold" text-anchor="middle" fill="#000">c</text>
<line x1="171.94" y1="467.79" x2="171.94" y2="466.97" stroke="#000" stroke-width="0.9"/>
<line x1="170.34" y1="466.97" x2="173.54" y2="466.97" stroke="#000" stroke-width="0.9"/>
<rect x="169.04" y="468.59" width="5.80" height="10.01" fill="#d4d4d4" stroke="#000" stroke-width="1.6"/>
<circle cx="169.74" cy="467.38" r="1.35" fill="#fff" stroke="#333" stroke-width="0.6"/>
<circle cx="171.94" cy="467.71" r="1.35" fill="#fff" stroke="#333" stroke-width="0.6"/>
<circle cx="174.14" cy="467.95" r="1.35" fill="#fff" stroke="#333" stroke-width="0.6"/>
<text x="171.94" y="463.97" font-size="10.2" font-weight="bold" text-anchor="middle" fill="#000">b</text>
<line x1="179.19" y1="466.87" x2="179.19" y2="465.65" stroke="#000" stroke-width="0.9"/>
<line x1="177.59" y1="465.65" x2="180.79" y2="465.65" stroke="#000" stroke-width="0.9"/>
<rect x="176.44" y="467.67" width="5.50" height="10.93" fill="#a0a0a4" stroke="#000" stroke-width="1.6"/>
<circle cx="176.99" cy="466.26" r="1.35" fill="#fff" stroke="#333" stroke-width="0.6"/>
<circle cx="179.19" cy="466.75" r="1.35" fill="#fff" stroke="#333" stroke-width="0.6"/>
<circle cx="181.39" cy="467.11" r="1.35" fill="#fff" stroke="#333" stroke-width="0.6"/>
<text x="179.19" y="462.65" font-size="10.2" font-weight="bold" text-anchor="middle" fill="#000">b</text>
<line x1="186.89" y1="469.42" x2="186.89" y2="468.60" stroke="#000" stroke-width="0.9"/>
<line x1="185.29" y1="468.60" x2="188.49" y2="468.60" stroke="#000" stroke-width="0.9"/>
<rect x="184.14" y="470.22" width="5.50" height="8.38" fill="#fddcb9" stroke="#000" stroke-width="1.6"/>
<circle cx="184.69" cy="469.01" r="1.35" fill="#fff" stroke="#333" stroke-width="0.6"/>
<circle cx="186.89" cy="469.34" r="1.35" fill="#fff" stroke="#333" stroke-width="0.6"/>
<circle cx="189.09" cy="469.58" r="1.35" fill="#fff" stroke="#333" stroke-width="0.6"/>
<text x="186.89" y="465.60" font-size="10.2" font-weight="bold" text-anchor="middle" fill="#000">b</text>
<line x1="194.14" y1="469.93" x2="194.14" y2="469.22" stroke="#000" stroke-width="0.9"/>
<line x1="192.54" y1="469.22" x2="195.74" y2="469.22" stroke="#000" stroke-width="0.9"/>
<rect x="191.24" y="470.73" width="5.80" height="7.87" fill="#fda140" stroke="#000" stroke-width="1.6"/>
<circle cx="191.94" cy="469.57" r="1.35" fill="#fff" stroke="#333" stroke-width="0.6"/>
<circle cx="194.14" cy="469.86" r="1.35" fill="#fff" stroke="#333" stroke-width="0.6"/>
<circle cx="196.34" cy="470.07" r="1.35" fill="#fff" stroke="#333" stroke-width="0.6"/>
<text x="194.14" y="466.22" font-size="10.2" font-weight="bold" text-anchor="middle" fill="#000">b</text>
<line x1="209.66" y1="430.35" x2="209.66" y2="422.70" stroke="#000" stroke-width="0.9"/>
<line x1="208.06" y1="422.70" x2="211.26" y2="422.70" stroke="#000" stroke-width="0.9"/>
<rect x="206.76" y="431.15" width="5.80" height="47.45" fill="#d4d4d4" stroke="#000" stroke-width="1.6"/>
<circle cx="209.66" cy="422.70" r="1.35" fill="#fff" stroke="#333" stroke-width="0.6"/>
<circle cx="208.46" cy="432.65" r="1.35" fill="#fff" stroke="#333" stroke-width="0.6"/>
<circle cx="210.86" cy="437.24" r="1.35" fill="#fff" stroke="#333" stroke-width="0.6"/>
<text x="209.66" y="419.70" font-size="10.2" font-weight="bold" text-anchor="middle" fill="#000">a</text>
<line x1="216.91" y1="423.11" x2="216.91" y2="416.99" stroke="#000" stroke-width="0.9"/>
<line x1="215.31" y1="416.99" x2="218.51" y2="416.99" stroke="#000" stroke-width="0.9"/>
<rect x="214.16" y="423.91" width="5.50" height="54.69" fill="#a0a0a4" stroke="#000" stroke-width="1.6"/>
<circle cx="216.91" cy="416.99" r="1.35" fill="#fff" stroke="#333" stroke-width="0.6"/>
<circle cx="215.71" cy="424.95" r="1.35" fill="#fff" stroke="#333" stroke-width="0.6"/>
<circle cx="218.11" cy="428.62" r="1.35" fill="#fff" stroke="#333" stroke-width="0.6"/>
<text x="216.91" y="413.99" font-size="10.2" font-weight="bold" text-anchor="middle" fill="#000">a</text>
<line x1="224.61" y1="466.87" x2="224.61" y2="465.85" stroke="#000" stroke-width="0.9"/>
<line x1="223.01" y1="465.85" x2="226.21" y2="465.85" stroke="#000" stroke-width="0.9"/>
<rect x="221.86" y="467.67" width="5.50" height="10.93" fill="#fddcb9" stroke="#000" stroke-width="1.6"/>
<circle cx="222.41" cy="466.36" r="1.35" fill="#fff" stroke="#333" stroke-width="0.6"/>
<circle cx="224.61" cy="466.77" r="1.35" fill="#fff" stroke="#333" stroke-width="0.6"/>
<circle cx="226.81" cy="467.07" r="1.35" fill="#fff" stroke="#333" stroke-width="0.6"/>
<text x="224.61" y="462.85" font-size="10.2" font-weight="bold" text-anchor="middle" fill="#000">b</text>
<line x1="231.86" y1="467.18" x2="231.86" y2="466.16" stroke="#000" stroke-width="0.9"/>
<line x1="230.26" y1="466.16" x2="233.46" y2="466.16" stroke="#000" stroke-width="0.9"/>
<rect x="228.96" y="467.98" width="5.80" height="10.62" fill="#fda140" stroke="#000" stroke-width="1.6"/>
<circle cx="229.66" cy="466.67" r="1.35" fill="#fff" stroke="#333" stroke-width="0.6"/>
<circle cx="231.86" cy="467.07" r="1.35" fill="#fff" stroke="#333" stroke-width="0.6"/>
<circle cx="234.06" cy="467.38" r="1.35" fill="#fff" stroke="#333" stroke-width="0.6"/>
<text x="231.86" y="463.16" font-size="10.2" font-weight="bold" text-anchor="middle" fill="#000">b</text>
<line x1="247.38" y1="468.40" x2="247.38" y2="467.79" stroke="#000" stroke-width="0.9"/>
<line x1="245.78" y1="467.79" x2="248.98" y2="467.79" stroke="#000" stroke-width="0.9"/>
<rect x="244.48" y="469.20" width="5.80" height="9.40" fill="#d4d4d4" stroke="#000" stroke-width="1.6"/>
<circle cx="245.18" cy="468.09" r="1.35" fill="#fff" stroke="#333" stroke-width="0.6"/>
<circle cx="247.38" cy="468.34" r="1.35" fill="#fff" stroke="#333" stroke-width="0.6"/>
<circle cx="249.58" cy="468.52" r="1.35" fill="#fff" stroke="#333" stroke-width="0.6"/>
<text x="247.38" y="464.79" font-size="10.2" font-weight="bold" text-anchor="middle" fill="#000">c</text>
<line x1="254.63" y1="468.91" x2="254.63" y2="468.30" stroke="#000" stroke-width="0.9"/>
<line x1="253.03" y1="468.30" x2="256.23" y2="468.30" stroke="#000" stroke-width="0.9"/>
<rect x="251.88" y="469.71" width="5.50" height="8.89" fill="#a0a0a4" stroke="#000" stroke-width="1.6"/>
<circle cx="252.43" cy="468.60" r="1.35" fill="#fff" stroke="#333" stroke-width="0.6"/>
<circle cx="254.63" cy="468.85" r="1.35" fill="#fff" stroke="#333" stroke-width="0.6"/>
<circle cx="256.83" cy="469.03" r="1.35" fill="#fff" stroke="#333" stroke-width="0.6"/>
<text x="254.63" y="465.30" font-size="10.2" font-weight="bold" text-anchor="middle" fill="#000">c</text>
<line x1="262.33" y1="471.46" x2="262.33" y2="470.44" stroke="#000" stroke-width="0.9"/>
<line x1="260.73" y1="470.44" x2="263.93" y2="470.44" stroke="#000" stroke-width="0.9"/>
<rect x="259.58" y="472.26" width="5.50" height="6.34" fill="#fddcb9" stroke="#000" stroke-width="1.6"/>
<circle cx="260.13" cy="470.95" r="1.35" fill="#fff" stroke="#333" stroke-width="0.6"/>
<circle cx="262.33" cy="471.36" r="1.35" fill="#fff" stroke="#333" stroke-width="0.6"/>
<circle cx="264.53" cy="471.66" r="1.35" fill="#fff" stroke="#333" stroke-width="0.6"/>
<text x="262.33" y="467.44" font-size="10.2" font-weight="bold" text-anchor="middle" fill="#000">c</text>
<line x1="269.58" y1="471.97" x2="269.58" y2="470.95" stroke="#000" stroke-width="0.9"/>
<line x1="267.98" y1="470.95" x2="271.18" y2="470.95" stroke="#000" stroke-width="0.9"/>
<rect x="266.68" y="472.77" width="5.80" height="5.83" fill="#fda140" stroke="#000" stroke-width="1.6"/>
<circle cx="267.38" cy="471.46" r="1.35" fill="#fff" stroke="#333" stroke-width="0.6"/>
<circle cx="269.58" cy="471.87" r="1.35" fill="#fff" stroke="#333" stroke-width="0.6"/>
<circle cx="271.78" cy="472.17" r="1.35" fill="#fff" stroke="#333" stroke-width="0.6"/>
<text x="269.58" y="467.95" font-size="10.2" font-weight="bold" text-anchor="middle" fill="#000">c</text>
<line x1="285.10" y1="417.40" x2="285.10" y2="410.26" stroke="#000" stroke-width="0.9"/>
<line x1="283.50" y1="410.26" x2="286.70" y2="410.26" stroke="#000" stroke-width="0.9"/>
<rect x="282.20" y="418.20" width="5.80" height="60.40" fill="#d4d4d4" stroke="#000" stroke-width="1.6"/>
<circle cx="285.10" cy="410.26" r="1.35" fill="#fff" stroke="#333" stroke-width="0.6"/>
<circle cx="283.90" cy="419.54" r="1.35" fill="#fff" stroke="#333" stroke-width="0.6"/>
<circle cx="286.30" cy="423.83" r="1.35" fill="#fff" stroke="#333" stroke-width="0.6"/>
<text x="285.10" y="407.26" font-size="10.2" font-weight="bold" text-anchor="middle" fill="#000">a</text>
<line x1="292.35" y1="433.72" x2="292.35" y2="426.58" stroke="#000" stroke-width="0.9"/>
<line x1="290.75" y1="426.58" x2="293.95" y2="426.58" stroke="#000" stroke-width="0.9"/>
<rect x="289.60" y="434.52" width="5.50" height="44.08" fill="#a0a0a4" stroke="#000" stroke-width="1.6"/>
<circle cx="292.35" cy="426.58" r="1.35" fill="#fff" stroke="#333" stroke-width="0.6"/>
<circle cx="291.15" cy="435.86" r="1.35" fill="#fff" stroke="#333" stroke-width="0.6"/>
<circle cx="293.55" cy="440.15" r="1.35" fill="#fff" stroke="#333" stroke-width="0.6"/>
<text x="292.35" y="423.58" font-size="10.2" font-weight="bold" text-anchor="middle" fill="#000">b</text>
<line x1="300.05" y1="467.38" x2="300.05" y2="465.85" stroke="#000" stroke-width="0.9"/>
<line x1="298.45" y1="465.85" x2="301.65" y2="465.85" stroke="#000" stroke-width="0.9"/>
<rect x="297.30" y="468.18" width="5.50" height="10.42" fill="#fddcb9" stroke="#000" stroke-width="1.6"/>
<circle cx="297.85" cy="466.62" r="1.35" fill="#fff" stroke="#333" stroke-width="0.6"/>
<circle cx="300.05" cy="467.23" r="1.35" fill="#fff" stroke="#333" stroke-width="0.6"/>
<circle cx="302.25" cy="467.69" r="1.35" fill="#fff" stroke="#333" stroke-width="0.6"/>
<text x="300.05" y="462.85" font-size="10.2" font-weight="bold" text-anchor="middle" fill="#000">c</text>
<line x1="307.30" y1="468.40" x2="307.30" y2="467.18" stroke="#000" stroke-width="0.9"/>
<line x1="305.70" y1="467.18" x2="308.90" y2="467.18" stroke="#000" stroke-width="0.9"/>
<rect x="304.40" y="469.20" width="5.80" height="9.40" fill="#fda140" stroke="#000" stroke-width="1.6"/>
<circle cx="305.10" cy="467.79" r="1.35" fill="#fff" stroke="#333" stroke-width="0.6"/>
<circle cx="307.30" cy="468.28" r="1.35" fill="#fff" stroke="#333" stroke-width="0.6"/>
<circle cx="309.50" cy="468.64" r="1.35" fill="#fff" stroke="#333" stroke-width="0.6"/>
<text x="307.30" y="464.18" font-size="10.2" font-weight="bold" text-anchor="middle" fill="#000">c</text>
<line x1="322.82" y1="468.40" x2="322.82" y2="467.38" stroke="#000" stroke-width="0.9"/>
<line x1="321.22" y1="467.38" x2="324.42" y2="467.38" stroke="#000" stroke-width="0.9"/>
<rect x="319.92" y="469.20" width="5.80" height="9.40" fill="#d4d4d4" stroke="#000" stroke-width="1.6"/>
<circle cx="320.62" cy="467.89" r="1.35" fill="#fff" stroke="#333" stroke-width="0.6"/>
<circle cx="322.82" cy="468.30" r="1.35" fill="#fff" stroke="#333" stroke-width="0.6"/>
<circle cx="325.02" cy="468.60" r="1.35" fill="#fff" stroke="#333" stroke-width="0.6"/>
<text x="322.82" y="464.38" font-size="10.2" font-weight="bold" text-anchor="middle" fill="#000">c</text>
<line x1="330.07" y1="466.36" x2="330.07" y2="464.83" stroke="#000" stroke-width="0.9"/>
<line x1="328.47" y1="464.83" x2="331.67" y2="464.83" stroke="#000" stroke-width="0.9"/>
<rect x="327.32" y="467.16" width="5.50" height="11.44" fill="#a0a0a4" stroke="#000" stroke-width="1.6"/>
<circle cx="327.87" cy="465.60" r="1.35" fill="#fff" stroke="#333" stroke-width="0.6"/>
<circle cx="330.07" cy="466.21" r="1.35" fill="#fff" stroke="#333" stroke-width="0.6"/>
<circle cx="332.27" cy="466.67" r="1.35" fill="#fff" stroke="#333" stroke-width="0.6"/>
<text x="330.07" y="461.83" font-size="10.2" font-weight="bold" text-anchor="middle" fill="#000">c</text>
<line x1="337.77" y1="476.05" x2="337.77" y2="475.54" stroke="#000" stroke-width="0.9"/>
<line x1="336.17" y1="475.54" x2="339.37" y2="475.54" stroke="#000" stroke-width="0.9"/>
<rect x="335.02" y="476.85" width="5.50" height="1.75" fill="#fddcb9" stroke="#000" stroke-width="1.6"/>
<circle cx="335.57" cy="475.80" r="1.35" fill="#fff" stroke="#333" stroke-width="0.6"/>
<circle cx="337.77" cy="476.00" r="1.35" fill="#fff" stroke="#333" stroke-width="0.6"/>
<circle cx="339.97" cy="476.15" r="1.35" fill="#fff" stroke="#333" stroke-width="0.6"/>
<text x="337.77" y="472.54" font-size="10.2" font-weight="bold" text-anchor="middle" fill="#000">c</text>
<line x1="345.02" y1="476.56" x2="345.02" y2="476.05" stroke="#000" stroke-width="0.9"/>
<line x1="343.42" y1="476.05" x2="346.62" y2="476.05" stroke="#000" stroke-width="0.9"/>
<rect x="342.12" y="477.36" width="5.80" height="1.24" fill="#fda140" stroke="#000" stroke-width="1.6"/>
<circle cx="342.82" cy="476.31" r="1.35" fill="#fff" stroke="#333" stroke-width="0.6"/>
<circle cx="345.02" cy="476.51" r="1.35" fill="#fff" stroke="#333" stroke-width="0.6"/>
<circle cx="347.22" cy="476.66" r="1.35" fill="#fff" stroke="#333" stroke-width="0.6"/>
<text x="345.02" y="473.05" font-size="10.2" font-weight="bold" text-anchor="middle" fill="#000">c</text>
<line x1="360.54" y1="365.75" x2="360.54" y2="362.38" stroke="#000" stroke-width="0.9"/>
<line x1="358.94" y1="362.38" x2="362.14" y2="362.38" stroke="#000" stroke-width="0.9"/>
<rect x="356.84" y="365.75" width="7.40" height="20.85" fill="#d4d4d4" stroke="none" stroke-width="0"/>
<rect x="356.84" y="397.30" width="7.40" height="81.30" fill="#d4d4d4" stroke="none" stroke-width="0"/>
<path d="M357.64,386.6 V366.55 H363.44 V386.6" fill="none" stroke="#000" stroke-width="1.6"/>
<line x1="357.64" y1="397.30" x2="357.64" y2="478.60" stroke="#000" stroke-width="1.6"/>
<line x1="363.44" y1="397.30" x2="363.44" y2="478.60" stroke="#000" stroke-width="1.6"/>
<circle cx="360.54" cy="362.38" r="1.35" fill="#fff" stroke="#333" stroke-width="0.6"/>
<circle cx="359.34" cy="367.44" r="1.35" fill="#fff" stroke="#333" stroke-width="0.6"/>
<circle cx="361.74" cy="369.12" r="1.35" fill="#fff" stroke="#333" stroke-width="0.6"/>
<text x="360.54" y="359.38" font-size="10.2" font-weight="bold" text-anchor="middle" fill="#000">a</text>
<line x1="367.79" y1="371.93" x2="367.79" y2="369.68" stroke="#000" stroke-width="0.9"/>
<line x1="366.19" y1="369.68" x2="369.39" y2="369.68" stroke="#000" stroke-width="0.9"/>
<rect x="364.24" y="371.93" width="7.10" height="14.67" fill="#a0a0a4" stroke="none" stroke-width="0"/>
<rect x="364.24" y="397.30" width="7.10" height="81.30" fill="#a0a0a4" stroke="none" stroke-width="0"/>
<path d="M365.04,386.6 V372.73 H370.54 V386.6" fill="none" stroke="#000" stroke-width="1.6"/>
<line x1="365.04" y1="397.30" x2="365.04" y2="478.60" stroke="#000" stroke-width="1.6"/>
<line x1="370.54" y1="397.30" x2="370.54" y2="478.60" stroke="#000" stroke-width="1.6"/>
<circle cx="367.79" cy="369.68" r="1.35" fill="#fff" stroke="#333" stroke-width="0.6"/>
<circle cx="366.59" cy="373.06" r="1.35" fill="#fff" stroke="#333" stroke-width="0.6"/>
<circle cx="368.99" cy="374.18" r="1.35" fill="#fff" stroke="#333" stroke-width="0.6"/>
<text x="367.79" y="366.68" font-size="10.2" font-weight="bold" text-anchor="middle" fill="#000">b</text>
<line x1="375.49" y1="476.05" x2="375.49" y2="475.54" stroke="#000" stroke-width="0.9"/>
<line x1="373.89" y1="475.54" x2="377.09" y2="475.54" stroke="#000" stroke-width="0.9"/>
<rect x="372.74" y="476.85" width="5.50" height="1.75" fill="#fddcb9" stroke="#000" stroke-width="1.6"/>
<circle cx="373.29" cy="475.80" r="1.35" fill="#fff" stroke="#333" stroke-width="0.6"/>
<circle cx="375.49" cy="476.00" r="1.35" fill="#fff" stroke="#333" stroke-width="0.6"/>
<circle cx="377.69" cy="476.15" r="1.35" fill="#fff" stroke="#333" stroke-width="0.6"/>
<text x="375.49" y="472.54" font-size="10.2" font-weight="bold" text-anchor="middle" fill="#000">c</text>
<line x1="382.74" y1="476.05" x2="382.74" y2="475.54" stroke="#000" stroke-width="0.9"/>
<line x1="381.14" y1="475.54" x2="384.34" y2="475.54" stroke="#000" stroke-width="0.9"/>
<rect x="379.84" y="476.85" width="5.80" height="1.75" fill="#fda140" stroke="#000" stroke-width="1.6"/>
<circle cx="380.54" cy="475.80" r="1.35" fill="#fff" stroke="#333" stroke-width="0.6"/>
<circle cx="382.74" cy="476.00" r="1.35" fill="#fff" stroke="#333" stroke-width="0.6"/>
<circle cx="384.94" cy="476.15" r="1.35" fill="#fff" stroke="#333" stroke-width="0.6"/>
<text x="382.74" y="472.54" font-size="10.2" font-weight="bold" text-anchor="middle" fill="#000">c</text>
<text x="107.60" y="497.80" font-size="12" font-weight="bold" text-anchor="middle" fill="#000">Mock</text>
<text x="145.32" y="497.80" font-size="12" font-weight="bold" text-anchor="middle" fill="#000">RKN</text>
<text x="183.04" y="497.80" font-size="12" font-weight="bold" text-anchor="middle" fill="#000">Mock</text>
<text x="220.76" y="497.80" font-size="12" font-weight="bold" text-anchor="middle" fill="#000">RKN</text>
<text x="258.48" y="497.80" font-size="12" font-weight="bold" text-anchor="middle" fill="#000">Mock</text>
<text x="296.20" y="497.80" font-size="12" font-weight="bold" text-anchor="middle" fill="#000">RKN</text>
<text x="333.92" y="497.80" font-size="12" font-weight="bold" text-anchor="middle" fill="#000">Mock</text>
<text x="371.64" y="497.80" font-size="12" font-weight="bold" text-anchor="middle" fill="#000">RKN</text>
<text x="97.40" y="399.60" font-size="12" font-weight="bold" font-style="italic" text-anchor="start" fill="#000">LOXF</text>
<text x="170.00" y="399.60" font-size="12" font-weight="bold" font-style="italic" text-anchor="start" fill="#000">AOS</text>
<text x="244.60" y="399.60" font-size="12" font-weight="bold" font-style="italic" text-anchor="start" fill="#000">AOC</text>
<text x="318.40" y="365.20" font-size="12" font-weight="bold" font-style="italic" text-anchor="start" fill="#000">HY5</text>
<rect x="95.20" y="354.70" width="10.20" height="6.50" fill="#d4d4d4" stroke="#111" stroke-width="1.2"/>
<text x="118.20" y="362.40" font-size="12" font-weight="bold" text-anchor="start" fill="#000">WT/WT</text>
<rect x="95.20" y="371.10" width="10.20" height="6.50" fill="#a0a0a4" stroke="#111" stroke-width="1.2"/>
<text x="118.20" y="378.80" font-size="12" font-weight="bold" text-anchor="start" fill="#000">WT/<tspan font-style="italic">hy5</tspan></text>
<rect x="191.60" y="355.10" width="10.20" height="6.50" fill="#fddcb9" stroke="#111" stroke-width="1.2"/>
<text x="214.60" y="362.80" font-size="12" font-weight="bold" text-anchor="start" fill="#000"><tspan font-style="italic">hy5</tspan>/WT</text>
<rect x="191.60" y="371.30" width="10.20" height="6.50" fill="#fda140" stroke="#111" stroke-width="1.2"/>
<text x="214.60" y="379.00" font-size="12" font-weight="bold" text-anchor="start" fill="#000"><tspan font-style="italic">hy5</tspan>/<tspan font-style="italic">hy5</tspan></text>
<text x="0.00" y="0.00" font-size="12.0" font-weight="bold" text-anchor="middle" fill="#000" transform="translate(46.00,415.10) rotate(-90)">Transcript in leaf</text>
<text x="0.00" y="0.00" font-size="12.0" font-weight="bold" text-anchor="middle" fill="#000" transform="translate(61.20,414.90) rotate(-90)">(relative)</text>
<text x="421.50" y="357.50" font-size="21" font-weight="bold" text-anchor="start" fill="#000">h</text>
<line x1="482.40" y1="350.20" x2="482.40" y2="481.20" stroke="#000" stroke-width="1.4"/>
<line x1="476.20" y1="480.50" x2="482.40" y2="480.50" stroke="#000" stroke-width="1.4"/>
<text x="474.80" y="484.10" font-size="10.2" font-weight="bold" text-anchor="end" fill="#000">0</text>
<line x1="476.20" y1="447.93" x2="482.40" y2="447.93" stroke="#000" stroke-width="1.4"/>
<text x="474.80" y="451.53" font-size="10.2" font-weight="bold" text-anchor="end" fill="#000">5</text>
<line x1="476.20" y1="415.35" x2="482.40" y2="415.35" stroke="#000" stroke-width="1.4"/>
<text x="474.80" y="418.95" font-size="10.2" font-weight="bold" text-anchor="end" fill="#000">10</text>
<line x1="476.20" y1="382.77" x2="482.40" y2="382.77" stroke="#000" stroke-width="1.4"/>
<text x="474.80" y="386.38" font-size="10.2" font-weight="bold" text-anchor="end" fill="#000">15</text>
<line x1="476.20" y1="350.20" x2="482.40" y2="350.20" stroke="#000" stroke-width="1.4"/>
<text x="474.80" y="353.80" font-size="10.2" font-weight="bold" text-anchor="end" fill="#000">20</text>
<line x1="476.20" y1="480.50" x2="681.20" y2="480.50" stroke="#000" stroke-width="1.7"/>
<line x1="506.90" y1="480.50" x2="506.90" y2="487.00" stroke="#000" stroke-width="1.4"/>
<line x1="556.40" y1="480.50" x2="556.40" y2="487.00" stroke="#000" stroke-width="1.4"/>
<line x1="605.70" y1="480.50" x2="605.70" y2="487.00" stroke="#000" stroke-width="1.4"/>
<line x1="655.00" y1="480.50" x2="655.00" y2="487.00" stroke="#000" stroke-width="1.4"/>
<line x1="492.35" y1="473.33" x2="492.35" y2="472.36" stroke="#000" stroke-width="0.9"/>
<line x1="489.85" y1="472.36" x2="494.85" y2="472.36" stroke="#000" stroke-width="0.9"/>
<rect x="488.40" y="474.23" width="7.90" height="6.27" fill="#d4d4d4" stroke="#000" stroke-width="1.8"/>
<circle cx="489.55" cy="472.68" r="1.50" fill="#fff" stroke="#333" stroke-width="0.7"/>
<circle cx="492.35" cy="472.36" r="1.50" fill="#fff" stroke="#333" stroke-width="0.7"/>
<circle cx="495.15" cy="473.01" r="1.50" fill="#fff" stroke="#333" stroke-width="0.7"/>
<text x="492.35" y="467.86" font-size="12" font-weight="bold" text-anchor="middle" fill="#000">c</text>
<line x1="502.05" y1="473.33" x2="502.05" y2="472.36" stroke="#000" stroke-width="0.9"/>
<line x1="499.55" y1="472.36" x2="504.55" y2="472.36" stroke="#000" stroke-width="0.9"/>
<rect x="498.10" y="474.23" width="7.90" height="6.27" fill="#a0a0a4" stroke="#000" stroke-width="1.8"/>
<circle cx="499.25" cy="472.68" r="1.50" fill="#fff" stroke="#333" stroke-width="0.7"/>
<circle cx="502.05" cy="472.36" r="1.50" fill="#fff" stroke="#333" stroke-width="0.7"/>
<circle cx="504.85" cy="473.01" r="1.50" fill="#fff" stroke="#333" stroke-width="0.7"/>
<text x="502.05" y="467.86" font-size="12" font-weight="bold" text-anchor="middle" fill="#000">c</text>
<line x1="512.75" y1="447.27" x2="512.75" y2="444.02" stroke="#000" stroke-width="0.9"/>
<line x1="510.25" y1="444.02" x2="515.25" y2="444.02" stroke="#000" stroke-width="0.9"/>
<rect x="508.80" y="448.17" width="7.90" height="32.33" fill="#fddcb9" stroke="#000" stroke-width="1.8"/>
<circle cx="512.75" cy="444.02" r="1.50" fill="#fff" stroke="#333" stroke-width="0.7"/>
<circle cx="511.25" cy="448.25" r="1.50" fill="#fff" stroke="#333" stroke-width="0.7"/>
<circle cx="514.25" cy="450.21" r="1.50" fill="#fff" stroke="#333" stroke-width="0.7"/>
<text x="512.75" y="439.52" font-size="12" font-weight="bold" text-anchor="middle" fill="#000">b</text>
<line x1="522.45" y1="430.33" x2="522.45" y2="423.82" stroke="#000" stroke-width="0.9"/>
<line x1="519.95" y1="423.82" x2="524.95" y2="423.82" stroke="#000" stroke-width="0.9"/>
<rect x="518.50" y="431.23" width="7.90" height="49.27" fill="#fda140" stroke="#000" stroke-width="1.8"/>
<circle cx="522.45" cy="423.82" r="1.50" fill="#fff" stroke="#333" stroke-width="0.7"/>
<circle cx="520.95" cy="432.29" r="1.50" fill="#fff" stroke="#333" stroke-width="0.7"/>
<circle cx="523.95" cy="436.20" r="1.50" fill="#fff" stroke="#333" stroke-width="0.7"/>
<text x="522.45" y="419.32" font-size="12" font-weight="bold" text-anchor="middle" fill="#000">a</text>
<line x1="541.85" y1="472.68" x2="541.85" y2="471.90" stroke="#000" stroke-width="0.9"/>
<line x1="539.35" y1="471.90" x2="544.35" y2="471.90" stroke="#000" stroke-width="0.9"/>
<rect x="537.90" y="473.58" width="7.90" height="6.92" fill="#d4d4d4" stroke="#000" stroke-width="1.8"/>
<circle cx="539.05" cy="472.03" r="1.50" fill="#fff" stroke="#333" stroke-width="0.7"/>
<circle cx="541.85" cy="471.70" r="1.50" fill="#fff" stroke="#333" stroke-width="0.7"/>
<circle cx="544.65" cy="472.36" r="1.50" fill="#fff" stroke="#333" stroke-width="0.7"/>
<text x="541.85" y="467.20" font-size="12" font-weight="bold" text-anchor="middle" fill="#000">c</text>
<line x1="551.55" y1="473.33" x2="551.55" y2="472.55" stroke="#000" stroke-width="0.9"/>
<line x1="549.05" y1="472.55" x2="554.05" y2="472.55" stroke="#000" stroke-width="0.9"/>
<rect x="547.60" y="474.23" width="7.90" height="6.27" fill="#a0a0a4" stroke="#000" stroke-width="1.8"/>
<circle cx="548.75" cy="472.68" r="1.50" fill="#fff" stroke="#333" stroke-width="0.7"/>
<circle cx="551.55" cy="472.36" r="1.50" fill="#fff" stroke="#333" stroke-width="0.7"/>
<circle cx="554.35" cy="473.01" r="1.50" fill="#fff" stroke="#333" stroke-width="0.7"/>
<text x="551.55" y="467.86" font-size="12" font-weight="bold" text-anchor="middle" fill="#000">c</text>
<line x1="562.25" y1="432.94" x2="562.25" y2="428.38" stroke="#000" stroke-width="0.9"/>
<line x1="559.75" y1="428.38" x2="564.75" y2="428.38" stroke="#000" stroke-width="0.9"/>
<rect x="558.30" y="433.84" width="7.90" height="46.66" fill="#fddcb9" stroke="#000" stroke-width="1.8"/>
<circle cx="562.25" cy="428.38" r="1.50" fill="#fff" stroke="#333" stroke-width="0.7"/>
<circle cx="560.75" cy="434.31" r="1.50" fill="#fff" stroke="#333" stroke-width="0.7"/>
<circle cx="563.75" cy="437.04" r="1.50" fill="#fff" stroke="#333" stroke-width="0.7"/>
<text x="562.25" y="423.88" font-size="12" font-weight="bold" text-anchor="middle" fill="#000">b</text>
<line x1="571.95" y1="415.35" x2="571.95" y2="406.23" stroke="#000" stroke-width="0.9"/>
<line x1="569.45" y1="406.23" x2="574.45" y2="406.23" stroke="#000" stroke-width="0.9"/>
<rect x="568.00" y="416.25" width="7.90" height="64.25" fill="#fda140" stroke="#000" stroke-width="1.8"/>
<circle cx="571.95" cy="406.23" r="1.50" fill="#fff" stroke="#333" stroke-width="0.7"/>
<circle cx="570.45" cy="418.09" r="1.50" fill="#fff" stroke="#333" stroke-width="0.7"/>
<circle cx="573.45" cy="423.56" r="1.50" fill="#fff" stroke="#333" stroke-width="0.7"/>
<text x="571.95" y="401.73" font-size="12" font-weight="bold" text-anchor="middle" fill="#000">a</text>
<line x1="591.15" y1="473.33" x2="591.15" y2="472.55" stroke="#000" stroke-width="0.9"/>
<line x1="588.65" y1="472.55" x2="593.65" y2="472.55" stroke="#000" stroke-width="0.9"/>
<rect x="587.20" y="474.23" width="7.90" height="6.27" fill="#d4d4d4" stroke="#000" stroke-width="1.8"/>
<circle cx="588.35" cy="472.68" r="1.50" fill="#fff" stroke="#333" stroke-width="0.7"/>
<circle cx="591.15" cy="472.36" r="1.50" fill="#fff" stroke="#333" stroke-width="0.7"/>
<circle cx="593.95" cy="473.01" r="1.50" fill="#fff" stroke="#333" stroke-width="0.7"/>
<text x="591.15" y="467.86" font-size="12" font-weight="bold" text-anchor="middle" fill="#000">c</text>
<line x1="600.85" y1="473.33" x2="600.85" y2="472.55" stroke="#000" stroke-width="0.9"/>
<line x1="598.35" y1="472.55" x2="603.35" y2="472.55" stroke="#000" stroke-width="0.9"/>
<rect x="596.90" y="474.23" width="7.90" height="6.27" fill="#a0a0a4" stroke="#000" stroke-width="1.8"/>
<circle cx="598.05" cy="472.68" r="1.50" fill="#fff" stroke="#333" stroke-width="0.7"/>
<circle cx="600.85" cy="472.36" r="1.50" fill="#fff" stroke="#333" stroke-width="0.7"/>
<circle cx="603.65" cy="473.01" r="1.50" fill="#fff" stroke="#333" stroke-width="0.7"/>
<text x="600.85" y="467.86" font-size="12" font-weight="bold" text-anchor="middle" fill="#000">c</text>
<line x1="611.55" y1="418.61" x2="611.55" y2="416.33" stroke="#000" stroke-width="0.9"/>
<line x1="609.05" y1="416.33" x2="614.05" y2="416.33" stroke="#000" stroke-width="0.9"/>
<rect x="607.60" y="419.51" width="7.90" height="60.99" fill="#fddcb9" stroke="#000" stroke-width="1.8"/>
<circle cx="611.55" cy="416.33" r="1.50" fill="#fff" stroke="#333" stroke-width="0.7"/>
<circle cx="610.05" cy="419.29" r="1.50" fill="#fff" stroke="#333" stroke-width="0.7"/>
<circle cx="613.05" cy="420.66" r="1.50" fill="#fff" stroke="#333" stroke-width="0.7"/>
<text x="611.55" y="411.83" font-size="12" font-weight="bold" text-anchor="middle" fill="#000">b</text>
<line x1="621.25" y1="400.37" x2="621.25" y2="391.24" stroke="#000" stroke-width="0.9"/>
<line x1="618.75" y1="391.24" x2="623.75" y2="391.24" stroke="#000" stroke-width="0.9"/>
<rect x="617.30" y="401.27" width="7.90" height="79.23" fill="#fda140" stroke="#000" stroke-width="1.8"/>
<circle cx="621.25" cy="391.24" r="1.50" fill="#fff" stroke="#333" stroke-width="0.7"/>
<circle cx="619.75" cy="403.10" r="1.50" fill="#fff" stroke="#333" stroke-width="0.7"/>
<circle cx="622.75" cy="408.57" r="1.50" fill="#fff" stroke="#333" stroke-width="0.7"/>
<text x="621.25" y="386.74" font-size="12" font-weight="bold" text-anchor="middle" fill="#000">a</text>
<line x1="640.45" y1="472.03" x2="640.45" y2="471.25" stroke="#000" stroke-width="0.9"/>
<line x1="637.95" y1="471.25" x2="642.95" y2="471.25" stroke="#000" stroke-width="0.9"/>
<rect x="636.50" y="472.93" width="7.90" height="7.57" fill="#d4d4d4" stroke="#000" stroke-width="1.8"/>
<circle cx="637.65" cy="471.38" r="1.50" fill="#fff" stroke="#333" stroke-width="0.7"/>
<circle cx="640.45" cy="471.05" r="1.50" fill="#fff" stroke="#333" stroke-width="0.7"/>
<circle cx="643.25" cy="471.70" r="1.50" fill="#fff" stroke="#333" stroke-width="0.7"/>
<text x="640.45" y="466.55" font-size="12" font-weight="bold" text-anchor="middle" fill="#000">c</text>
<line x1="650.15" y1="472.68" x2="650.15" y2="472.03" stroke="#000" stroke-width="0.9"/>
<line x1="647.65" y1="472.03" x2="652.65" y2="472.03" stroke="#000" stroke-width="0.9"/>
<rect x="646.20" y="473.58" width="7.90" height="6.92" fill="#a0a0a4" stroke="#000" stroke-width="1.8"/>
<circle cx="647.35" cy="472.03" r="1.50" fill="#fff" stroke="#333" stroke-width="0.7"/>
<circle cx="650.15" cy="471.70" r="1.50" fill="#fff" stroke="#333" stroke-width="0.7"/>
<circle cx="652.95" cy="472.36" r="1.50" fill="#fff" stroke="#333" stroke-width="0.7"/>
<text x="650.15" y="467.20" font-size="12" font-weight="bold" text-anchor="middle" fill="#000">c</text>
<line x1="660.85" y1="413.40" x2="660.85" y2="403.62" stroke="#000" stroke-width="0.9"/>
<line x1="658.35" y1="403.62" x2="663.35" y2="403.62" stroke="#000" stroke-width="0.9"/>
<rect x="656.90" y="414.30" width="7.90" height="66.20" fill="#fddcb9" stroke="#000" stroke-width="1.8"/>
<circle cx="660.85" cy="403.62" r="1.50" fill="#fff" stroke="#333" stroke-width="0.7"/>
<circle cx="659.35" cy="416.33" r="1.50" fill="#fff" stroke="#333" stroke-width="0.7"/>
<circle cx="662.35" cy="422.19" r="1.50" fill="#fff" stroke="#333" stroke-width="0.7"/>
<text x="660.85" y="399.12" font-size="12" font-weight="bold" text-anchor="middle" fill="#000">b</text>
<line x1="670.55" y1="386.03" x2="670.55" y2="369.09" stroke="#000" stroke-width="0.9"/>
<line x1="668.05" y1="369.09" x2="673.05" y2="369.09" stroke="#000" stroke-width="0.9"/>
<rect x="666.60" y="386.93" width="7.90" height="93.57" fill="#fda140" stroke="#000" stroke-width="1.8"/>
<circle cx="670.55" cy="369.09" r="1.50" fill="#fff" stroke="#333" stroke-width="0.7"/>
<circle cx="669.05" cy="391.11" r="1.50" fill="#fff" stroke="#333" stroke-width="0.7"/>
<circle cx="672.05" cy="401.28" r="1.50" fill="#fff" stroke="#333" stroke-width="0.7"/>
<text x="670.55" y="364.59" font-size="12" font-weight="bold" text-anchor="middle" fill="#000">a</text>
<text x="506.90" y="499.00" font-size="12" font-weight="bold" font-style="italic" text-anchor="middle" fill="#000">pLOXF</text>
<text x="556.40" y="499.00" font-size="12" font-weight="bold" font-style="italic" text-anchor="middle" fill="#000">pAOS</text>
<text x="605.70" y="499.00" font-size="12" font-weight="bold" font-style="italic" text-anchor="middle" fill="#000">pAOC</text>
<text x="655.00" y="499.00" font-size="12" font-weight="bold" font-style="italic" text-anchor="middle" fill="#000">pHY5</text>
<rect x="489.35" y="349.50" width="10.60" height="6.50" fill="#d4d4d4" stroke="#111" stroke-width="1.3"/>
<text x="510.00" y="357.50" font-size="12.0" font-weight="bold" text-anchor="start" fill="#000">WT WL</text>
<rect x="489.35" y="365.40" width="10.60" height="6.50" fill="#a0a0a4" stroke="#111" stroke-width="1.3"/>
<text x="510.00" y="373.40" font-size="12.0" font-weight="bold" text-anchor="start" fill="#000">WT RL</text>
<rect x="560.45" y="349.50" width="10.60" height="6.50" fill="#fddcb9" stroke="#111" stroke-width="1.3"/>
<text x="581.10" y="357.50" font-size="12.0" font-weight="bold" text-anchor="start" fill="#000"><tspan font-style="italic">HY5</tspan>-OE WL</text>
<rect x="560.45" y="365.40" width="10.60" height="6.50" fill="#fda140" stroke="#111" stroke-width="1.3"/>
<text x="581.10" y="373.40" font-size="12.0" font-weight="bold" text-anchor="start" fill="#000"><tspan font-style="italic">HY5</tspan>-OE RL</text>
<text x="0.00" y="0.00" font-size="12.05" font-weight="bold" text-anchor="middle" fill="#000" transform="translate(455.30,415.20) rotate(-90)">Fold change (Ab/IgG)</text>
<text x="16.50" y="531.50" font-size="21" font-weight="bold" text-anchor="start" fill="#000">i</text>
<defs><filter id="bl1" x="-30%" y="-100%" width="160%" height="300%"><feGaussianBlur stdDeviation="0.6"/></filter><filter id="bl2" x="-30%" y="-100%" width="160%" height="300%"><feGaussianBlur stdDeviation="1.2"/></filter><filter id="bl3" x="-30%" y="-100%" width="160%" height="300%"><feGaussianBlur stdDeviation="2.0"/></filter></defs>
<text x="75.90" y="539.60" font-size="10.75" font-weight="bold" text-anchor="end" fill="#000">Probe</text>
<text x="75.90" y="552.60" font-size="10.75" font-weight="bold" text-anchor="end" fill="#000">His</text>
<text x="75.90" y="567.00" font-size="10.75" font-weight="bold" text-anchor="end" fill="#000">His-HY5</text>
<text x="75.90" y="580.40" font-size="10.75" font-weight="bold" text-anchor="end" fill="#000">Competitor</text>
<text x="75.90" y="594.60" font-size="10.75" font-weight="bold" text-anchor="end" fill="#000">Mu-competitor</text>
<text x="119.35" y="521.00" font-size="10.9" font-weight="bold" text-anchor="middle" fill="#000"><tspan font-style="italic">LOXF</tspan>-probe</text>
<line x1="81.10" y1="527.50" x2="153.60" y2="527.50" stroke="#000" stroke-width="1.4"/>
<text x="88.10" y="540.70" font-size="11" font-weight="bold" text-anchor="middle" fill="#000">+</text>
<text x="101.80" y="540.70" font-size="11" font-weight="bold" text-anchor="middle" fill="#000">+</text>
<text x="115.70" y="540.70" font-size="11" font-weight="bold" text-anchor="middle" fill="#000">+</text>
<text x="129.20" y="540.70" font-size="11" font-weight="bold" text-anchor="middle" fill="#000">+</text>
<text x="135.90" y="540.50" font-size="10.6" font-weight="bold" text-anchor="start" fill="#000">mut</text>
<text x="88.10" y="553.90" font-size="11" font-weight="bold" text-anchor="middle" fill="#000">+</text>
<text x="101.80" y="553.00" font-size="11" font-weight="bold" text-anchor="middle" fill="#000">-</text>
<text x="115.70" y="553.00" font-size="11" font-weight="bold" text-anchor="middle" fill="#000">-</text>
<text x="129.20" y="553.00" font-size="11" font-weight="bold" text-anchor="middle" fill="#000">-</text>
<text x="143.60" y="553.00" font-size="11" font-weight="bold" text-anchor="middle" fill="#000">-</text>
<text x="88.10" y="567.30" font-size="11" font-weight="bold" text-anchor="middle" fill="#000">-</text>
<text x="101.80" y="568.20" font-size="11" font-weight="bold" text-anchor="middle" fill="#000">+</text>
<text x="115.70" y="568.20" font-size="11" font-weight="bold" text-anchor="middle" fill="#000">+</text>
<text x="129.20" y="568.20" font-size="11" font-weight="bold" text-anchor="middle" fill="#000">+</text>
<text x="143.60" y="568.20" font-size="11" font-weight="bold" text-anchor="middle" fill="#000">+</text>
<text x="88.10" y="579.40" font-size="11" font-weight="bold" text-anchor="middle" fill="#000">-</text>
<text x="101.80" y="579.40" font-size="11" font-weight="bold" text-anchor="middle" fill="#000">-</text>
<text x="115.70" y="580.30" font-size="11" font-weight="bold" text-anchor="middle" fill="#000">+</text>
<text x="129.20" y="579.40" font-size="11" font-weight="bold" text-anchor="middle" fill="#000">-</text>
<text x="143.60" y="579.40" font-size="11" font-weight="bold" text-anchor="middle" fill="#000">-</text>
<text x="88.10" y="591.80" font-size="11" font-weight="bold" text-anchor="middle" fill="#000">-</text>
<text x="101.80" y="591.80" font-size="11" font-weight="bold" text-anchor="middle" fill="#000">-</text>
<text x="115.70" y="591.80" font-size="11" font-weight="bold" text-anchor="middle" fill="#000">-</text>
<text x="129.20" y="592.70" font-size="11" font-weight="bold" text-anchor="middle" fill="#000">+</text>
<text x="143.60" y="591.80" font-size="11" font-weight="bold" text-anchor="middle" fill="#000">-</text>
<text x="197.65" y="521.00" font-size="10.9" font-weight="bold" text-anchor="middle" fill="#000"><tspan font-style="italic">AOS</tspan>-probe</text>
<line x1="159.50" y1="527.50" x2="231.80" y2="527.50" stroke="#000" stroke-width="1.4"/>
<text x="166.30" y="540.70" font-size="11" font-weight="bold" text-anchor="middle" fill="#000">+</text>
<text x="180.50" y="540.70" font-size="11" font-weight="bold" text-anchor="middle" fill="#000">+</text>
<text x="194.10" y="540.70" font-size="11" font-weight="bold" text-anchor="middle" fill="#000">+</text>
<text x="207.80" y="540.70" font-size="11" font-weight="bold" text-anchor="middle" fill="#000">+</text>
<text x="214.20" y="540.50" font-size="10.6" font-weight="bold" text-anchor="start" fill="#000">mut</text>
<text x="166.30" y="553.90" font-size="11" font-weight="bold" text-anchor="middle" fill="#000">+</text>
<text x="180.50" y="553.00" font-size="11" font-weight="bold" text-anchor="middle" fill="#000">-</text>
<text x="194.10" y="553.00" font-size="11" font-weight="bold" text-anchor="middle" fill="#000">-</text>
<text x="207.80" y="553.00" font-size="11" font-weight="bold" text-anchor="middle" fill="#000">-</text>
<text x="221.90" y="553.00" font-size="11" font-weight="bold" text-anchor="middle" fill="#000">-</text>
<text x="166.30" y="567.30" font-size="11" font-weight="bold" text-anchor="middle" fill="#000">-</text>
<text x="180.50" y="568.20" font-size="11" font-weight="bold" text-anchor="middle" fill="#000">+</text>
<text x="194.10" y="568.20" font-size="11" font-weight="bold" text-anchor="middle" fill="#000">+</text>
<text x="207.80" y="568.20" font-size="11" font-weight="bold" text-anchor="middle" fill="#000">+</text>
<text x="221.90" y="568.20" font-size="11" font-weight="bold" text-anchor="middle" fill="#000">+</text>
<text x="166.30" y="579.40" font-size="11" font-weight="bold" text-anchor="middle" fill="#000">-</text>
<text x="180.50" y="579.40" font-size="11" font-weight="bold" text-anchor="middle" fill="#000">-</text>
<text x="194.10" y="580.30" font-size="11" font-weight="bold" text-anchor="middle" fill="#000">+</text>
<text x="207.80" y="579.40" font-size="11" font-weight="bold" text-anchor="middle" fill="#000">-</text>
<text x="221.90" y="579.40" font-size="11" font-weight="bold" text-anchor="middle" fill="#000">-</text>
<text x="166.30" y="591.80" font-size="11" font-weight="bold" text-anchor="middle" fill="#000">-</text>
<text x="180.50" y="591.80" font-size="11" font-weight="bold" text-anchor="middle" fill="#000">-</text>
<text x="194.10" y="591.80" font-size="11" font-weight="bold" text-anchor="middle" fill="#000">-</text>
<text x="207.80" y="592.70" font-size="11" font-weight="bold" text-anchor="middle" fill="#000">+</text>
<text x="221.90" y="591.80" font-size="11" font-weight="bold" text-anchor="middle" fill="#000">-</text>
<text x="276.20" y="521.00" font-size="10.9" font-weight="bold" text-anchor="middle" fill="#000"><tspan font-style="italic">AOC</tspan>-probe</text>
<line x1="238.20" y1="527.50" x2="310.20" y2="527.50" stroke="#000" stroke-width="1.4"/>
<text x="244.40" y="540.70" font-size="11" font-weight="bold" text-anchor="middle" fill="#000">+</text>
<text x="258.50" y="540.70" font-size="11" font-weight="bold" text-anchor="middle" fill="#000">+</text>
<text x="272.20" y="540.70" font-size="11" font-weight="bold" text-anchor="middle" fill="#000">+</text>
<text x="285.80" y="540.70" font-size="11" font-weight="bold" text-anchor="middle" fill="#000">+</text>
<text x="292.70" y="540.50" font-size="10.6" font-weight="bold" text-anchor="start" fill="#000">mut</text>
<text x="244.40" y="553.90" font-size="11" font-weight="bold" text-anchor="middle" fill="#000">+</text>
<text x="258.50" y="553.00" font-size="11" font-weight="bold" text-anchor="middle" fill="#000">-</text>
<text x="272.20" y="553.00" font-size="11" font-weight="bold" text-anchor="middle" fill="#000">-</text>
<text x="285.80" y="553.00" font-size="11" font-weight="bold" text-anchor="middle" fill="#000">-</text>
<text x="300.40" y="553.00" font-size="11" font-weight="bold" text-anchor="middle" fill="#000">-</text>
<text x="244.40" y="567.30" font-size="11" font-weight="bold" text-anchor="middle" fill="#000">-</text>
<text x="258.50" y="568.20" font-size="11" font-weight="bold" text-anchor="middle" fill="#000">+</text>
<text x="272.20" y="568.20" font-size="11" font-weight="bold" text-anchor="middle" fill="#000">+</text>
<text x="285.80" y="568.20" font-size="11" font-weight="bold" text-anchor="middle" fill="#000">+</text>
<text x="300.40" y="568.20" font-size="11" font-weight="bold" text-anchor="middle" fill="#000">+</text>
<text x="244.40" y="579.40" font-size="11" font-weight="bold" text-anchor="middle" fill="#000">-</text>
<text x="258.50" y="579.40" font-size="11" font-weight="bold" text-anchor="middle" fill="#000">-</text>
<text x="272.20" y="580.30" font-size="11" font-weight="bold" text-anchor="middle" fill="#000">+</text>
<text x="285.80" y="579.40" font-size="11" font-weight="bold" text-anchor="middle" fill="#000">-</text>
<text x="300.40" y="579.40" font-size="11" font-weight="bold" text-anchor="middle" fill="#000">-</text>
<text x="244.40" y="591.80" font-size="11" font-weight="bold" text-anchor="middle" fill="#000">-</text>
<text x="258.50" y="591.80" font-size="11" font-weight="bold" text-anchor="middle" fill="#000">-</text>
<text x="272.20" y="591.80" font-size="11" font-weight="bold" text-anchor="middle" fill="#000">-</text>
<text x="285.80" y="592.70" font-size="11" font-weight="bold" text-anchor="middle" fill="#000">+</text>
<text x="300.40" y="591.80" font-size="11" font-weight="bold" text-anchor="middle" fill="#000">-</text>
<text x="354.90" y="521.00" font-size="10.9" font-weight="bold" text-anchor="middle" fill="#000"><tspan font-style="italic">HY5</tspan>-probe</text>
<line x1="315.60" y1="527.50" x2="390.20" y2="527.50" stroke="#000" stroke-width="1.4"/>
<text x="323.80" y="540.70" font-size="11" font-weight="bold" text-anchor="middle" fill="#000">+</text>
<text x="338.00" y="540.70" font-size="11" font-weight="bold" text-anchor="middle" fill="#000">+</text>
<text x="351.10" y="540.70" font-size="11" font-weight="bold" text-anchor="middle" fill="#000">+</text>
<text x="365.30" y="540.70" font-size="11" font-weight="bold" text-anchor="middle" fill="#000">+</text>
<text x="371.90" y="540.50" font-size="10.6" font-weight="bold" text-anchor="start" fill="#000">mut</text>
<text x="323.80" y="553.90" font-size="11" font-weight="bold" text-anchor="middle" fill="#000">+</text>
<text x="338.00" y="553.00" font-size="11" font-weight="bold" text-anchor="middle" fill="#000">-</text>
<text x="351.10" y="553.00" font-size="11" font-weight="bold" text-anchor="middle" fill="#000">-</text>
<text x="365.30" y="553.00" font-size="11" font-weight="bold" text-anchor="middle" fill="#000">-</text>
<text x="379.60" y="553.00" font-size="11" font-weight="bold" text-anchor="middle" fill="#000">-</text>
<text x="323.80" y="567.30" font-size="11" font-weight="bold" text-anchor="middle" fill="#000">-</text>
<text x="338.00" y="568.20" font-size="11" font-weight="bold" text-anchor="middle" fill="#000">+</text>
<text x="351.10" y="568.20" font-size="11" font-weight="bold" text-anchor="middle" fill="#000">+</text>
<text x="365.30" y="568.20" font-size="11" font-weight="bold" text-anchor="middle" fill="#000">+</text>
<text x="379.60" y="568.20" font-size="11" font-weight="bold" text-anchor="middle" fill="#000">+</text>
<text x="323.80" y="579.40" font-size="11" font-weight="bold" text-anchor="middle" fill="#000">-</text>
<text x="338.00" y="579.40" font-size="11" font-weight="bold" text-anchor="middle" fill="#000">-</text>
<text x="351.10" y="580.30" font-size="11" font-weight="bold" text-anchor="middle" fill="#000">+</text>
<text x="365.30" y="579.40" font-size="11" font-weight="bold" text-anchor="middle" fill="#000">-</text>
<text x="379.60" y="579.40" font-size="11" font-weight="bold" text-anchor="middle" fill="#000">-</text>
<text x="323.80" y="591.80" font-size="11" font-weight="bold" text-anchor="middle" fill="#000">-</text>
<text x="338.00" y="591.80" font-size="11" font-weight="bold" text-anchor="middle" fill="#000">-</text>
<text x="351.10" y="591.80" font-size="11" font-weight="bold" text-anchor="middle" fill="#000">-</text>
<text x="365.30" y="592.70" font-size="11" font-weight="bold" text-anchor="middle" fill="#000">+</text>
<text x="379.60" y="591.80" font-size="11" font-weight="bold" text-anchor="middle" fill="#000">-</text>
<rect x="81.70" y="598.30" width="71.30" height="70.20" fill="#e9e9e9" stroke="none" stroke-width="0"/>
<rect x="83.6" y="600" width="9" height="64" fill="#eeeeee" filter="url(#bl3)"/>
<rect x="97.3" y="600" width="9" height="64" fill="#eeeeee" filter="url(#bl3)"/>
<rect x="111.2" y="600" width="9" height="64" fill="#eeeeee" filter="url(#bl3)"/>
<rect x="124.7" y="600" width="9" height="64" fill="#eeeeee" filter="url(#bl3)"/>
<rect x="139.1" y="600" width="9" height="64" fill="#eeeeee" filter="url(#bl3)"/>
<rect x="160.10" y="598.30" width="71.10" height="70.20" fill="#e9e9e9" stroke="none" stroke-width="0"/>
<rect x="161.8" y="600" width="9" height="64" fill="#eeeeee" filter="url(#bl3)"/>
<rect x="176.0" y="600" width="9" height="64" fill="#eeeeee" filter="url(#bl3)"/>
<rect x="189.6" y="600" width="9" height="64" fill="#eeeeee" filter="url(#bl3)"/>
<rect x="203.3" y="600" width="9" height="64" fill="#eeeeee" filter="url(#bl3)"/>
<rect x="217.4" y="600" width="9" height="64" fill="#eeeeee" filter="url(#bl3)"/>
<rect x="238.80" y="598.30" width="70.80" height="70.20" fill="#e9e9e9" stroke="none" stroke-width="0"/>
<rect x="239.9" y="600" width="9" height="64" fill="#eeeeee" filter="url(#bl3)"/>
<rect x="254.0" y="600" width="9" height="64" fill="#eeeeee" filter="url(#bl3)"/>
<rect x="267.7" y="600" width="9" height="64" fill="#eeeeee" filter="url(#bl3)"/>
<rect x="281.3" y="600" width="9" height="64" fill="#eeeeee" filter="url(#bl3)"/>
<rect x="295.9" y="600" width="9" height="64" fill="#eeeeee" filter="url(#bl3)"/>
<rect x="316.20" y="598.30" width="73.40" height="70.20" fill="#e9e9e9" stroke="none" stroke-width="0"/>
<rect x="319.3" y="600" width="9" height="64" fill="#eeeeee" filter="url(#bl3)"/>
<rect x="333.5" y="600" width="9" height="64" fill="#eeeeee" filter="url(#bl3)"/>
<rect x="346.6" y="600" width="9" height="64" fill="#eeeeee" filter="url(#bl3)"/>
<rect x="360.8" y="600" width="9" height="64" fill="#eeeeee" filter="url(#bl3)"/>
<rect x="375.1" y="600" width="9" height="64" fill="#eeeeee" filter="url(#bl3)"/>
<rect x="97.2" y="608.9" width="10.5" height="2.7" rx="1.4" fill="#000" opacity="1.0" filter="url(#bl1)"/>
<rect x="112.2" y="609.4" width="7.8" height="1.8" rx="0.9" fill="#999" opacity="0.3" filter="url(#bl1)"/>
<rect x="124.4" y="608.9" width="10.5" height="2.7" rx="1.4" fill="#000" opacity="1.0" filter="url(#bl1)"/>
<rect x="86.1" y="649.2" width="7.0" height="2.6" rx="1.3" fill="#1a1a1a" opacity="0.9" filter="url(#bl1)"/>
<rect x="110.5" y="649.8" width="10.0" height="1.8" rx="0.9" fill="#999" opacity="0.5" filter="url(#bl2)"/>
<rect x="83.9" y="654.6" width="11.3" height="8.6" rx="4.0" fill="#000" opacity="1" filter="url(#bl1)"/>
<rect x="97.8" y="657.0" width="10.5" height="3.4" rx="1.7" fill="#000" opacity="1.0" filter="url(#bl1)"/>
<rect x="111.6" y="656.6" width="10.6" height="3.8" rx="1.9" fill="#000" opacity="1.0" filter="url(#bl1)"/>
<rect x="125.5" y="657.8" width="9.4" height="1.8" rx="0.9" fill="#555" opacity="0.8" filter="url(#bl1)"/>
<rect x="137.7" y="654.8" width="10.7" height="6.2" rx="3.0" fill="#000" opacity="1" filter="url(#bl1)"/>
<rect x="176.6" y="609.0" width="10.5" height="2.9" rx="1.4" fill="#000" opacity="1.0" filter="url(#bl1)"/>
<rect x="190.2" y="609.6" width="9.4" height="1.8" rx="0.9" fill="#999" opacity="0.4" filter="url(#bl1)"/>
<rect x="203.5" y="609.0" width="10.5" height="2.9" rx="1.4" fill="#000" opacity="1.0" filter="url(#bl1)"/>
<rect x="164.5" y="647.5" width="9.0" height="4.5" rx="2.2" fill="#999" opacity="0.35" filter="url(#bl2)"/>
<rect x="189.5" y="648.5" width="10.5" height="3.5" rx="1.8" fill="#777" opacity="0.5" filter="url(#bl2)"/>
<rect x="164.1" y="653.5" width="10.5" height="7.7" rx="3.5" fill="#000" opacity="1" filter="url(#bl1)"/>
<rect x="176.3" y="653.8" width="10.8" height="7.2" rx="3.5" fill="#000" opacity="1" filter="url(#bl1)"/>
<rect x="189.1" y="653.8" width="11.6" height="7.2" rx="3.5" fill="#000" opacity="1" filter="url(#bl1)"/>
<rect x="202.9" y="654.6" width="11.7" height="5.8" rx="3.0" fill="#000" opacity="1" filter="url(#bl1)"/>
<rect x="216.8" y="654.6" width="12.2" height="7.3" rx="3.5" fill="#000" opacity="1" filter="url(#bl1)"/>
<rect x="217.5" y="649.0" width="10.5" height="5.0" rx="2.5" fill="#aaa" opacity="0.5" filter="url(#bl2)"/>
<rect x="255.4" y="608.0" width="10.0" height="2.3" rx="1.1" fill="#000" opacity="1.0" filter="url(#bl1)"/>
<rect x="269.3" y="608.5" width="8.9" height="1.6" rx="0.8" fill="#999" opacity="0.45" filter="url(#bl1)"/>
<rect x="282.6" y="607.8" width="9.4" height="2.3" rx="1.2" fill="#000" opacity="1.0" filter="url(#bl1)"/>
<rect x="242.1" y="646.8" width="10.5" height="15.8" rx="4.5" fill="#000" opacity="1" filter="url(#bl1)"/>
<rect x="254.3" y="648.8" width="12.2" height="12.2" rx="4.0" fill="#000" opacity="1" filter="url(#bl1)"/>
<rect x="256.5" y="650.6" width="8.0" height="1.6" rx="0.8" fill="#666" opacity="0.7" filter="url(#bl1)"/>
<rect x="268.2" y="654.2" width="11.6" height="5.6" rx="2.5" fill="#000" opacity="1" filter="url(#bl1)"/>
<rect x="268.5" y="645.5" width="11.0" height="8.0" rx="2.0" fill="#555" opacity="0.75" filter="url(#bl2)"/>
<rect x="268.8" y="649.6" width="10.4" height="2.6" rx="1.0" fill="#222" opacity="0.8" filter="url(#bl1)"/>
<rect x="282.0" y="647.5" width="11.7" height="14.5" rx="4.0" fill="#000" opacity="1" filter="url(#bl1)"/>
<rect x="284.0" y="650.0" width="8.0" height="3.0" rx="1.5" fill="#555" opacity="0.6" filter="url(#bl1)"/>
<rect x="295.4" y="645.8" width="12.7" height="16.8" rx="4.5" fill="#000" opacity="1" filter="url(#bl1)"/>
<rect x="332.2" y="603.4" width="9.7" height="2.4" rx="1.2" fill="#000" opacity="1.0" filter="url(#bl1)"/>
<rect x="332.2" y="606.6" width="9.7" height="1.7" rx="0.8" fill="#444" opacity="0.75" filter="url(#bl1)"/>
<rect x="347.0" y="604.0" width="8.6" height="1.8" rx="0.9" fill="#555" opacity="0.7" filter="url(#bl1)"/>
<rect x="347.5" y="606.8" width="7.5" height="1.2" rx="0.6" fill="#999" opacity="0.5" filter="url(#bl1)"/>
<rect x="360.1" y="603.4" width="10.3" height="2.4" rx="1.2" fill="#000" opacity="1.0" filter="url(#bl1)"/>
<rect x="360.1" y="606.6" width="10.3" height="1.6" rx="0.8" fill="#666" opacity="0.6" filter="url(#bl1)"/>
<rect x="318.5" y="642.5" width="10.0" height="2.5" rx="1.2" fill="#888" opacity="0.6" filter="url(#bl2)"/>
<rect x="317.4" y="651.8" width="12.0" height="9.1" rx="4.5" fill="#000" opacity="1" filter="url(#bl1)"/>
<rect x="332.5" y="641.0" width="10.5" height="8.0" rx="4.0" fill="#888" opacity="0.55" filter="url(#bl3)"/>
<path d="M333.6,646.5 L341.8,646.5 L343.8,655 Q343.8,659.3 339,659.3 L336.4,659.3 Q331.6,659.3 331.6,655 Z" fill="#000" filter="url(#bl1)"/>
<rect x="346.5" y="643.0" width="11.0" height="8.0" rx="4.0" fill="#888" opacity="0.5" filter="url(#bl3)"/>
<path d="M348.0,648.6 L356.2,648.6 L358.2,655 Q358.2,659.3 353.5,659.3 L350.7,659.3 Q345.9,659.3 345.9,655 Z" fill="#000" filter="url(#bl1)"/>
<rect x="360.8" y="641.0" width="10.6" height="8.0" rx="4.0" fill="#888" opacity="0.55" filter="url(#bl3)"/>
<path d="M362.0,646.3 L370.2,646.3 L372.1,654 Q372.1,658.2 367.5,658.2 L364.7,658.2 Q360.1,658.2 360.1,654 Z" fill="#000" filter="url(#bl1)"/>
<rect x="375.0" y="645.0" width="10.0" height="7.0" rx="3.5" fill="#aaa" opacity="0.4" filter="url(#bl3)"/>
<rect x="374.1" y="650.7" width="11.9" height="8.8" rx="4.5" fill="#000" opacity="1" filter="url(#bl1)"/>
<rect x="82.30" y="598.90" width="70.10" height="68.30" fill="none" stroke="#111" stroke-width="1.2"/>
<rect x="160.70" y="598.90" width="69.90" height="68.30" fill="none" stroke="#111" stroke-width="1.2"/>
<rect x="239.40" y="598.90" width="69.60" height="68.30" fill="none" stroke="#111" stroke-width="1.2"/>
<rect x="316.80" y="598.90" width="72.20" height="68.30" fill="none" stroke="#111" stroke-width="1.2"/>
<text x="66.30" y="613.30" font-size="10.8" font-weight="bold" text-anchor="end" fill="#000">Bound probe</text>
<text x="66.30" y="661.80" font-size="10.8" font-weight="bold" text-anchor="end" fill="#000">Free probe</text>
<path d="M70.4,608.85 L73.4,608.85 L73.4,605.70 L79.3,610.30 L73.4,614.90 L73.4,611.75 L70.4,611.75 Z" fill="#000"/>
<path d="M70.4,656.95 L73.4,656.95 L73.4,653.80 L79.3,658.40 L73.4,663.00 L73.4,659.85 L70.4,659.85 Z" fill="#000"/>
<text x="424.60" y="532.40" font-size="21" font-weight="bold" text-anchor="start" fill="#000">j</text>
<line x1="480.30" y1="526.00" x2="480.30" y2="661.30" stroke="#000" stroke-width="1.5"/>
<line x1="473.90" y1="660.50" x2="480.30" y2="660.50" stroke="#000" stroke-width="1.4"/>
<text x="472.90" y="664.20" font-size="10.4" font-weight="bold" text-anchor="end" fill="#000">0</text>
<line x1="473.90" y1="633.64" x2="480.30" y2="633.64" stroke="#000" stroke-width="1.4"/>
<text x="472.90" y="637.34" font-size="10.4" font-weight="bold" text-anchor="end" fill="#000">2</text>
<line x1="473.90" y1="606.78" x2="480.30" y2="606.78" stroke="#000" stroke-width="1.4"/>
<text x="472.90" y="610.48" font-size="10.4" font-weight="bold" text-anchor="end" fill="#000">4</text>
<line x1="473.90" y1="579.92" x2="480.30" y2="579.92" stroke="#000" stroke-width="1.4"/>
<text x="472.90" y="583.62" font-size="10.4" font-weight="bold" text-anchor="end" fill="#000">6</text>
<line x1="473.90" y1="553.06" x2="480.30" y2="553.06" stroke="#000" stroke-width="1.4"/>
<text x="472.90" y="556.76" font-size="10.4" font-weight="bold" text-anchor="end" fill="#000">8</text>
<line x1="473.90" y1="526.20" x2="480.30" y2="526.20" stroke="#000" stroke-width="1.4"/>
<text x="472.90" y="529.90" font-size="10.4" font-weight="bold" text-anchor="end" fill="#000">10</text>
<line x1="473.90" y1="660.50" x2="684.50" y2="660.50" stroke="#000" stroke-width="1.8"/>
<line x1="505.70" y1="660.50" x2="505.70" y2="668.00" stroke="#000" stroke-width="1.4"/>
<line x1="556.30" y1="660.50" x2="556.30" y2="668.00" stroke="#000" stroke-width="1.4"/>
<line x1="606.80" y1="660.50" x2="606.80" y2="668.00" stroke="#000" stroke-width="1.4"/>
<line x1="657.30" y1="660.50" x2="657.30" y2="668.00" stroke="#000" stroke-width="1.4"/>
<line x1="490.55" y1="647.07" x2="490.55" y2="645.06" stroke="#000" stroke-width="0.9"/>
<line x1="488.05" y1="645.06" x2="493.05" y2="645.06" stroke="#000" stroke-width="0.9"/>
<rect x="486.40" y="647.97" width="8.30" height="12.53" fill="#d4d4d4" stroke="#000" stroke-width="1.8"/>
<circle cx="487.55" cy="645.06" r="1.40" fill="#fff" stroke="#333" stroke-width="0.7"/>
<circle cx="490.55" cy="646.40" r="1.40" fill="#fff" stroke="#333" stroke-width="0.7"/>
<circle cx="493.55" cy="645.73" r="1.40" fill="#fff" stroke="#333" stroke-width="0.7"/>
<circle cx="489.05" cy="648.41" r="1.40" fill="#fff" stroke="#333" stroke-width="0.7"/>
<circle cx="492.05" cy="647.74" r="1.40" fill="#fff" stroke="#333" stroke-width="0.7"/>
<text x="490.55" y="641.06" font-size="12" font-weight="bold" text-anchor="middle" fill="#000">c</text>
<line x1="500.65" y1="645.73" x2="500.65" y2="644.12" stroke="#000" stroke-width="0.9"/>
<line x1="498.15" y1="644.12" x2="503.15" y2="644.12" stroke="#000" stroke-width="0.9"/>
<rect x="496.50" y="646.63" width="8.30" height="13.87" fill="#a0a0a4" stroke="#000" stroke-width="1.8"/>
<circle cx="497.65" cy="643.71" r="1.40" fill="#fff" stroke="#333" stroke-width="0.7"/>
<circle cx="500.65" cy="645.06" r="1.40" fill="#fff" stroke="#333" stroke-width="0.7"/>
<circle cx="503.65" cy="644.38" r="1.40" fill="#fff" stroke="#333" stroke-width="0.7"/>
<circle cx="499.15" cy="647.07" r="1.40" fill="#fff" stroke="#333" stroke-width="0.7"/>
<circle cx="502.15" cy="646.40" r="1.40" fill="#fff" stroke="#333" stroke-width="0.7"/>
<text x="500.65" y="639.71" font-size="12" font-weight="bold" text-anchor="middle" fill="#000">c</text>
<line x1="510.75" y1="633.64" x2="510.75" y2="630.95" stroke="#000" stroke-width="0.9"/>
<line x1="508.25" y1="630.95" x2="513.25" y2="630.95" stroke="#000" stroke-width="0.9"/>
<rect x="506.60" y="634.54" width="8.30" height="25.96" fill="#fddcb9" stroke="#000" stroke-width="1.8"/>
<circle cx="510.75" cy="630.95" r="1.40" fill="#fff" stroke="#333" stroke-width="0.7"/>
<circle cx="508.25" cy="631.49" r="1.40" fill="#fff" stroke="#333" stroke-width="0.7"/>
<circle cx="513.25" cy="632.03" r="1.40" fill="#fff" stroke="#333" stroke-width="0.7"/>
<circle cx="510.75" cy="634.98" r="1.40" fill="#fff" stroke="#333" stroke-width="0.7"/>
<circle cx="508.95" cy="636.06" r="1.40" fill="#fff" stroke="#333" stroke-width="0.7"/>
<circle cx="512.55" cy="633.10" r="1.40" fill="#fff" stroke="#333" stroke-width="0.7"/>
<text x="510.75" y="626.95" font-size="12" font-weight="bold" text-anchor="middle" fill="#000">b</text>
<line x1="520.85" y1="616.18" x2="520.85" y2="608.79" stroke="#000" stroke-width="0.9"/>
<line x1="518.35" y1="608.79" x2="523.35" y2="608.79" stroke="#000" stroke-width="0.9"/>
<rect x="516.70" y="617.08" width="8.30" height="43.42" fill="#fda140" stroke="#000" stroke-width="1.8"/>
<circle cx="520.85" cy="608.79" r="1.40" fill="#fff" stroke="#333" stroke-width="0.7"/>
<circle cx="518.35" cy="610.27" r="1.40" fill="#fff" stroke="#333" stroke-width="0.7"/>
<circle cx="523.35" cy="611.75" r="1.40" fill="#fff" stroke="#333" stroke-width="0.7"/>
<circle cx="520.85" cy="619.87" r="1.40" fill="#fff" stroke="#333" stroke-width="0.7"/>
<circle cx="519.05" cy="622.83" r="1.40" fill="#fff" stroke="#333" stroke-width="0.7"/>
<circle cx="522.65" cy="614.70" r="1.40" fill="#fff" stroke="#333" stroke-width="0.7"/>
<text x="520.85" y="604.79" font-size="12" font-weight="bold" text-anchor="middle" fill="#000">a</text>
<line x1="541.15" y1="647.07" x2="541.15" y2="646.00" stroke="#000" stroke-width="0.9"/>
<line x1="538.65" y1="646.00" x2="543.65" y2="646.00" stroke="#000" stroke-width="0.9"/>
<rect x="537.00" y="647.97" width="8.30" height="12.53" fill="#d4d4d4" stroke="#000" stroke-width="1.8"/>
<circle cx="538.15" cy="645.06" r="1.40" fill="#fff" stroke="#333" stroke-width="0.7"/>
<circle cx="541.15" cy="646.40" r="1.40" fill="#fff" stroke="#333" stroke-width="0.7"/>
<circle cx="544.15" cy="645.73" r="1.40" fill="#fff" stroke="#333" stroke-width="0.7"/>
<circle cx="539.65" cy="648.41" r="1.40" fill="#fff" stroke="#333" stroke-width="0.7"/>
<circle cx="542.65" cy="647.74" r="1.40" fill="#fff" stroke="#333" stroke-width="0.7"/>
<text x="541.15" y="641.06" font-size="12" font-weight="bold" text-anchor="middle" fill="#000">c</text>
<line x1="551.25" y1="644.38" x2="551.25" y2="643.04" stroke="#000" stroke-width="0.9"/>
<line x1="548.75" y1="643.04" x2="553.75" y2="643.04" stroke="#000" stroke-width="0.9"/>
<rect x="547.10" y="645.28" width="8.30" height="15.22" fill="#a0a0a4" stroke="#000" stroke-width="1.8"/>
<circle cx="548.25" cy="642.37" r="1.40" fill="#fff" stroke="#333" stroke-width="0.7"/>
<circle cx="551.25" cy="643.71" r="1.40" fill="#fff" stroke="#333" stroke-width="0.7"/>
<circle cx="554.25" cy="643.04" r="1.40" fill="#fff" stroke="#333" stroke-width="0.7"/>
<circle cx="549.75" cy="645.73" r="1.40" fill="#fff" stroke="#333" stroke-width="0.7"/>
<circle cx="552.75" cy="645.06" r="1.40" fill="#fff" stroke="#333" stroke-width="0.7"/>
<text x="551.25" y="638.37" font-size="12" font-weight="bold" text-anchor="middle" fill="#000">c</text>
<line x1="561.35" y1="621.55" x2="561.35" y2="613.50" stroke="#000" stroke-width="0.9"/>
<line x1="558.85" y1="613.50" x2="563.85" y2="613.50" stroke="#000" stroke-width="0.9"/>
<rect x="557.20" y="622.45" width="8.30" height="38.05" fill="#fddcb9" stroke="#000" stroke-width="1.8"/>
<circle cx="561.35" cy="613.50" r="1.40" fill="#fff" stroke="#333" stroke-width="0.7"/>
<circle cx="558.85" cy="615.11" r="1.40" fill="#fff" stroke="#333" stroke-width="0.7"/>
<circle cx="563.85" cy="616.72" r="1.40" fill="#fff" stroke="#333" stroke-width="0.7"/>
<circle cx="561.35" cy="625.58" r="1.40" fill="#fff" stroke="#333" stroke-width="0.7"/>
<circle cx="559.55" cy="628.81" r="1.40" fill="#fff" stroke="#333" stroke-width="0.7"/>
<circle cx="563.15" cy="619.94" r="1.40" fill="#fff" stroke="#333" stroke-width="0.7"/>
<text x="561.35" y="609.50" font-size="12" font-weight="bold" text-anchor="middle" fill="#000">b</text>
<line x1="571.45" y1="589.32" x2="571.45" y2="581.26" stroke="#000" stroke-width="0.9"/>
<line x1="568.95" y1="581.26" x2="573.95" y2="581.26" stroke="#000" stroke-width="0.9"/>
<rect x="567.30" y="590.22" width="8.30" height="70.28" fill="#fda140" stroke="#000" stroke-width="1.8"/>
<circle cx="571.45" cy="581.26" r="1.40" fill="#fff" stroke="#333" stroke-width="0.7"/>
<circle cx="568.95" cy="582.87" r="1.40" fill="#fff" stroke="#333" stroke-width="0.7"/>
<circle cx="573.95" cy="584.49" r="1.40" fill="#fff" stroke="#333" stroke-width="0.7"/>
<circle cx="571.45" cy="593.35" r="1.40" fill="#fff" stroke="#333" stroke-width="0.7"/>
<circle cx="569.65" cy="596.57" r="1.40" fill="#fff" stroke="#333" stroke-width="0.7"/>
<circle cx="573.25" cy="587.71" r="1.40" fill="#fff" stroke="#333" stroke-width="0.7"/>
<text x="571.45" y="577.26" font-size="12" font-weight="bold" text-anchor="middle" fill="#000">a</text>
<line x1="591.65" y1="647.07" x2="591.65" y2="645.06" stroke="#000" stroke-width="0.9"/>
<line x1="589.15" y1="645.06" x2="594.15" y2="645.06" stroke="#000" stroke-width="0.9"/>
<rect x="587.50" y="647.97" width="8.30" height="12.53" fill="#d4d4d4" stroke="#000" stroke-width="1.8"/>
<circle cx="588.65" cy="645.06" r="1.40" fill="#fff" stroke="#333" stroke-width="0.7"/>
<circle cx="591.65" cy="646.40" r="1.40" fill="#fff" stroke="#333" stroke-width="0.7"/>
<circle cx="594.65" cy="645.73" r="1.40" fill="#fff" stroke="#333" stroke-width="0.7"/>
<circle cx="590.15" cy="648.41" r="1.40" fill="#fff" stroke="#333" stroke-width="0.7"/>
<circle cx="593.15" cy="647.74" r="1.40" fill="#fff" stroke="#333" stroke-width="0.7"/>
<text x="591.65" y="641.06" font-size="12" font-weight="bold" text-anchor="middle" fill="#000">c</text>
<line x1="601.75" y1="643.71" x2="601.75" y2="642.37" stroke="#000" stroke-width="0.9"/>
<line x1="599.25" y1="642.37" x2="604.25" y2="642.37" stroke="#000" stroke-width="0.9"/>
<rect x="597.60" y="644.61" width="8.30" height="15.89" fill="#a0a0a4" stroke="#000" stroke-width="1.8"/>
<circle cx="598.75" cy="641.70" r="1.40" fill="#fff" stroke="#333" stroke-width="0.7"/>
<circle cx="601.75" cy="643.04" r="1.40" fill="#fff" stroke="#333" stroke-width="0.7"/>
<circle cx="604.75" cy="642.37" r="1.40" fill="#fff" stroke="#333" stroke-width="0.7"/>
<circle cx="600.25" cy="645.06" r="1.40" fill="#fff" stroke="#333" stroke-width="0.7"/>
<circle cx="603.25" cy="644.38" r="1.40" fill="#fff" stroke="#333" stroke-width="0.7"/>
<text x="601.75" y="637.70" font-size="12" font-weight="bold" text-anchor="middle" fill="#000">c</text>
<line x1="611.85" y1="609.47" x2="611.85" y2="606.78" stroke="#000" stroke-width="0.9"/>
<line x1="609.35" y1="606.78" x2="614.35" y2="606.78" stroke="#000" stroke-width="0.9"/>
<rect x="607.70" y="610.37" width="8.30" height="50.13" fill="#fddcb9" stroke="#000" stroke-width="1.8"/>
<circle cx="611.85" cy="606.78" r="1.40" fill="#fff" stroke="#333" stroke-width="0.7"/>
<circle cx="609.35" cy="607.32" r="1.40" fill="#fff" stroke="#333" stroke-width="0.7"/>
<circle cx="614.35" cy="607.85" r="1.40" fill="#fff" stroke="#333" stroke-width="0.7"/>
<circle cx="611.85" cy="610.81" r="1.40" fill="#fff" stroke="#333" stroke-width="0.7"/>
<circle cx="610.05" cy="611.88" r="1.40" fill="#fff" stroke="#333" stroke-width="0.7"/>
<circle cx="613.65" cy="608.93" r="1.40" fill="#fff" stroke="#333" stroke-width="0.7"/>
<text x="611.85" y="602.78" font-size="12" font-weight="bold" text-anchor="middle" fill="#000">b</text>
<line x1="621.95" y1="567.83" x2="621.95" y2="557.09" stroke="#000" stroke-width="0.9"/>
<line x1="619.45" y1="557.09" x2="624.45" y2="557.09" stroke="#000" stroke-width="0.9"/>
<rect x="617.80" y="568.73" width="8.30" height="91.77" fill="#fda140" stroke="#000" stroke-width="1.8"/>
<circle cx="621.95" cy="557.09" r="1.40" fill="#fff" stroke="#333" stroke-width="0.7"/>
<circle cx="619.45" cy="559.24" r="1.40" fill="#fff" stroke="#333" stroke-width="0.7"/>
<circle cx="624.45" cy="561.39" r="1.40" fill="#fff" stroke="#333" stroke-width="0.7"/>
<circle cx="621.95" cy="573.21" r="1.40" fill="#fff" stroke="#333" stroke-width="0.7"/>
<circle cx="620.15" cy="577.50" r="1.40" fill="#fff" stroke="#333" stroke-width="0.7"/>
<circle cx="623.75" cy="565.68" r="1.40" fill="#fff" stroke="#333" stroke-width="0.7"/>
<text x="621.95" y="553.09" font-size="12" font-weight="bold" text-anchor="middle" fill="#000">a</text>
<line x1="642.15" y1="647.07" x2="642.15" y2="646.00" stroke="#000" stroke-width="0.9"/>
<line x1="639.65" y1="646.00" x2="644.65" y2="646.00" stroke="#000" stroke-width="0.9"/>
<rect x="638.00" y="647.97" width="8.30" height="12.53" fill="#d4d4d4" stroke="#000" stroke-width="1.8"/>
<circle cx="639.15" cy="645.06" r="1.40" fill="#fff" stroke="#333" stroke-width="0.7"/>
<circle cx="642.15" cy="646.40" r="1.40" fill="#fff" stroke="#333" stroke-width="0.7"/>
<circle cx="645.15" cy="645.73" r="1.40" fill="#fff" stroke="#333" stroke-width="0.7"/>
<circle cx="640.65" cy="648.41" r="1.40" fill="#fff" stroke="#333" stroke-width="0.7"/>
<circle cx="643.65" cy="647.74" r="1.40" fill="#fff" stroke="#333" stroke-width="0.7"/>
<text x="642.15" y="641.06" font-size="12" font-weight="bold" text-anchor="middle" fill="#000">c</text>
<line x1="652.25" y1="647.74" x2="652.25" y2="646.94" stroke="#000" stroke-width="0.9"/>
<line x1="649.75" y1="646.94" x2="654.75" y2="646.94" stroke="#000" stroke-width="0.9"/>
<rect x="648.10" y="648.64" width="8.30" height="11.86" fill="#a0a0a4" stroke="#000" stroke-width="1.8"/>
<circle cx="649.25" cy="645.73" r="1.40" fill="#fff" stroke="#333" stroke-width="0.7"/>
<circle cx="652.25" cy="647.07" r="1.40" fill="#fff" stroke="#333" stroke-width="0.7"/>
<circle cx="655.25" cy="646.40" r="1.40" fill="#fff" stroke="#333" stroke-width="0.7"/>
<circle cx="650.75" cy="649.08" r="1.40" fill="#fff" stroke="#333" stroke-width="0.7"/>
<circle cx="653.75" cy="648.41" r="1.40" fill="#fff" stroke="#333" stroke-width="0.7"/>
<text x="652.25" y="641.73" font-size="12" font-weight="bold" text-anchor="middle" fill="#000">c</text>
<line x1="662.35" y1="628.27" x2="662.35" y2="622.90" stroke="#000" stroke-width="0.9"/>
<line x1="659.85" y1="622.90" x2="664.85" y2="622.90" stroke="#000" stroke-width="0.9"/>
<rect x="658.20" y="629.17" width="8.30" height="31.33" fill="#fddcb9" stroke="#000" stroke-width="1.8"/>
<circle cx="662.35" cy="622.90" r="1.40" fill="#fff" stroke="#333" stroke-width="0.7"/>
<circle cx="659.85" cy="623.97" r="1.40" fill="#fff" stroke="#333" stroke-width="0.7"/>
<circle cx="664.85" cy="625.04" r="1.40" fill="#fff" stroke="#333" stroke-width="0.7"/>
<circle cx="662.35" cy="630.95" r="1.40" fill="#fff" stroke="#333" stroke-width="0.7"/>
<circle cx="660.55" cy="633.10" r="1.40" fill="#fff" stroke="#333" stroke-width="0.7"/>
<circle cx="664.15" cy="627.19" r="1.40" fill="#fff" stroke="#333" stroke-width="0.7"/>
<text x="662.35" y="618.90" font-size="12" font-weight="bold" text-anchor="middle" fill="#000">b</text>
<line x1="672.45" y1="612.15" x2="672.45" y2="606.11" stroke="#000" stroke-width="0.9"/>
<line x1="669.95" y1="606.11" x2="674.95" y2="606.11" stroke="#000" stroke-width="0.9"/>
<rect x="668.30" y="613.05" width="8.30" height="47.45" fill="#fda140" stroke="#000" stroke-width="1.8"/>
<circle cx="672.45" cy="606.11" r="1.40" fill="#fff" stroke="#333" stroke-width="0.7"/>
<circle cx="669.95" cy="607.32" r="1.40" fill="#fff" stroke="#333" stroke-width="0.7"/>
<circle cx="674.95" cy="608.53" r="1.40" fill="#fff" stroke="#333" stroke-width="0.7"/>
<circle cx="672.45" cy="615.17" r="1.40" fill="#fff" stroke="#333" stroke-width="0.7"/>
<circle cx="670.65" cy="617.59" r="1.40" fill="#fff" stroke="#333" stroke-width="0.7"/>
<circle cx="674.25" cy="610.94" r="1.40" fill="#fff" stroke="#333" stroke-width="0.7"/>
<text x="672.45" y="602.11" font-size="12" font-weight="bold" text-anchor="middle" fill="#000">a</text>
<rect x="486.55" y="526.35" width="11.70" height="6.80" fill="#d4d4d4" stroke="#111" stroke-width="1.3"/>
<text x="505.40" y="534.30" font-size="12.0" font-weight="bold" text-anchor="start" fill="#000">EV WL</text>
<rect x="486.55" y="542.75" width="11.70" height="6.80" fill="#a0a0a4" stroke="#111" stroke-width="1.3"/>
<text x="505.40" y="550.70" font-size="12.0" font-weight="bold" text-anchor="start" fill="#000">EV RL</text>
<rect x="549.95" y="526.35" width="11.70" height="6.80" fill="#fddcb9" stroke="#111" stroke-width="1.3"/>
<text x="568.80" y="534.30" font-size="12.0" font-weight="bold" text-anchor="start" fill="#000">HY5 WL</text>
<rect x="549.95" y="542.75" width="11.70" height="6.80" fill="#fda140" stroke="#111" stroke-width="1.3"/>
<text x="568.80" y="550.70" font-size="12.0" font-weight="bold" text-anchor="start" fill="#000">HY5 RL</text>
<text x="0.00" y="0.00" font-size="12.4" font-weight="bold" text-anchor="middle" fill="#000" transform="translate(452.20,593.90) rotate(-90)">LUC/REN</text>
</svg>
</body></html>
